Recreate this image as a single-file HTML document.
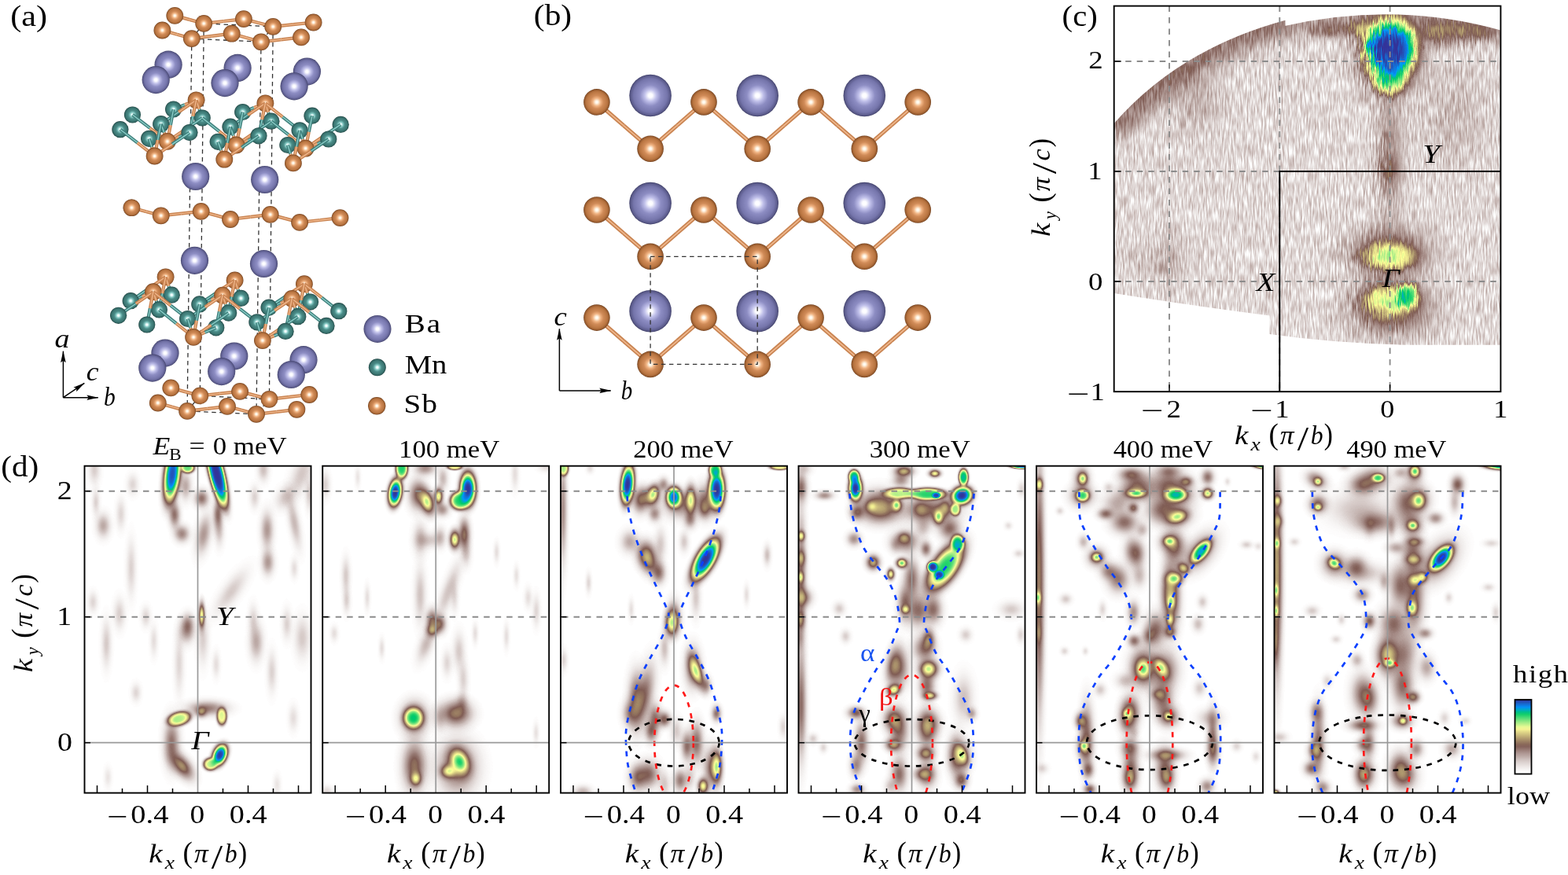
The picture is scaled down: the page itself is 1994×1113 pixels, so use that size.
<!DOCTYPE html>
<html><head><meta charset="utf-8"><title>figure</title>
<style>html,body{margin:0;padding:0;background:#fff;} svg{display:block;} text{font-family:'Liberation Serif', 'DejaVu Serif', serif;fill:#000;}</style>
</head><body>
<svg width="1994" height="1113" viewBox="0 0 1994 1113">
<rect width="1994" height="1113" fill="#fff"/>
<defs>
<filter id="cm" x="0" y="0" width="1" height="1" color-interpolation-filters="sRGB">
<feComponentTransfer><feFuncR type="table" tableValues="1.000 0.953 0.906 0.851 0.804 0.749 0.702 0.655 0.600 0.553 0.502 0.549 0.596 0.651 0.698 0.753 0.800 0.847 0.902 0.949 0.992 0.898 0.804 0.694 0.600 0.490 0.396 0.302 0.192 0.098 0.000 0.000 0.000 0.000 0.001 0.038 0.069 0.101 0.137 0.169 0.200"/><feFuncG type="table" tableValues="1.000 0.940 0.880 0.809 0.749 0.679 0.619 0.558 0.488 0.428 0.363 0.423 0.483 0.553 0.613 0.684 0.744 0.804 0.875 0.935 0.998 0.980 0.961 0.939 0.920 0.898 0.879 0.860 0.838 0.820 0.794 0.747 0.700 0.645 0.597 0.524 0.461 0.399 0.325 0.263 0.200"/><feFuncB type="table" tableValues="1.000 0.937 0.874 0.800 0.737 0.664 0.601 0.538 0.464 0.401 0.331 0.356 0.382 0.412 0.437 0.467 0.492 0.517 0.547 0.572 0.598 0.580 0.561 0.539 0.520 0.498 0.479 0.460 0.438 0.420 0.418 0.559 0.700 0.865 0.997 0.924 0.861 0.799 0.725 0.663 0.600"/></feComponentTransfer></filter>
<radialGradient id="bl"><stop offset="0.000" stop-color="#fff" stop-opacity="1.000"/><stop offset="0.125" stop-color="#fff" stop-opacity="0.927"/><stop offset="0.250" stop-color="#fff" stop-opacity="0.739"/><stop offset="0.375" stop-color="#fff" stop-opacity="0.506"/><stop offset="0.500" stop-color="#fff" stop-opacity="0.298"/><stop offset="0.625" stop-color="#fff" stop-opacity="0.151"/><stop offset="0.750" stop-color="#fff" stop-opacity="0.066"/><stop offset="0.875" stop-color="#fff" stop-opacity="0.025"/><stop offset="1.000" stop-color="#fff" stop-opacity="0.000"/></radialGradient>
<radialGradient id="gBa" cx="0.5" cy="0.5" r="0.5"><stop offset="0" stop-color="#ffffff"/><stop offset="0.1" stop-color="#fbfbff"/><stop offset="0.28" stop-color="#c0c0ea"/><stop offset="0.5" stop-color="#8d8dc3"/><stop offset="0.8" stop-color="#7575ab"/><stop offset="0.94" stop-color="#5a5a8a"/><stop offset="1" stop-color="#404068"/></radialGradient>
<radialGradient id="gMn" cx="0.5" cy="0.5" r="0.5"><stop offset="0" stop-color="#ffffff"/><stop offset="0.1" stop-color="#effffe"/><stop offset="0.3" stop-color="#7ec3be"/><stop offset="0.5" stop-color="#4b8c88"/><stop offset="0.8" stop-color="#3b7672"/><stop offset="0.94" stop-color="#2c5b58"/><stop offset="1" stop-color="#1e413f"/></radialGradient>
<radialGradient id="gSb" cx="0.5" cy="0.5" r="0.5"><stop offset="0" stop-color="#ffffff"/><stop offset="0.1" stop-color="#fff6e6"/><stop offset="0.3" stop-color="#f0b382"/><stop offset="0.5" stop-color="#d08b58"/><stop offset="0.8" stop-color="#b97541"/><stop offset="0.94" stop-color="#95592d"/><stop offset="1" stop-color="#6f401f"/></radialGradient>
<marker id="ah" viewBox="0 0 15 7" refX="14.5" refY="3.5" markerWidth="15" markerHeight="7" markerUnits="userSpaceOnUse" orient="auto"><path d="M0,0.2 L15,3.5 L0,6.8 L2.5,3.5 z" fill="#000"/></marker>
</defs>
<radialGradient id="bl"><stop offset="0.00" stop-color="#fff" stop-opacity="1.000"/><stop offset="0.10" stop-color="#fff" stop-opacity="0.948"/><stop offset="0.20" stop-color="#fff" stop-opacity="0.809"/><stop offset="0.30" stop-color="#fff" stop-opacity="0.621"/><stop offset="0.40" stop-color="#fff" stop-opacity="0.429"/><stop offset="0.50" stop-color="#fff" stop-opacity="0.266"/><stop offset="0.60" stop-color="#fff" stop-opacity="0.149"/><stop offset="0.70" stop-color="#fff" stop-opacity="0.075"/><stop offset="0.80" stop-color="#fff" stop-opacity="0.034"/><stop offset="0.90" stop-color="#fff" stop-opacity="0.014"/><stop offset="1.00" stop-color="#fff" stop-opacity="0.000"/></radialGradient>
<radialGradient id="bf"><stop offset="0.000" stop-color="#fff" stop-opacity="1.000"/><stop offset="0.083" stop-color="#fff" stop-opacity="0.999"/><stop offset="0.167" stop-color="#fff" stop-opacity="0.991"/><stop offset="0.250" stop-color="#fff" stop-opacity="0.955"/><stop offset="0.333" stop-color="#fff" stop-opacity="0.865"/><stop offset="0.417" stop-color="#fff" stop-opacity="0.703"/><stop offset="0.500" stop-color="#fff" stop-opacity="0.481"/><stop offset="0.583" stop-color="#fff" stop-opacity="0.258"/><stop offset="0.667" stop-color="#fff" stop-opacity="0.099"/><stop offset="0.750" stop-color="#fff" stop-opacity="0.025"/><stop offset="0.833" stop-color="#fff" stop-opacity="0.004"/><stop offset="0.917" stop-color="#fff" stop-opacity="0.000"/><stop offset="1.000" stop-color="#fff" stop-opacity="0.000"/></radialGradient>
<radialGradient id="bm"><stop offset="0.000" stop-color="#fff" stop-opacity="1.000"/><stop offset="0.083" stop-color="#fff" stop-opacity="0.996"/><stop offset="0.167" stop-color="#fff" stop-opacity="0.971"/><stop offset="0.250" stop-color="#fff" stop-opacity="0.906"/><stop offset="0.333" stop-color="#fff" stop-opacity="0.791"/><stop offset="0.417" stop-color="#fff" stop-opacity="0.633"/><stop offset="0.500" stop-color="#fff" stop-opacity="0.453"/><stop offset="0.583" stop-color="#fff" stop-opacity="0.285"/><stop offset="0.667" stop-color="#fff" stop-opacity="0.153"/><stop offset="0.750" stop-color="#fff" stop-opacity="0.069"/><stop offset="0.833" stop-color="#fff" stop-opacity="0.026"/><stop offset="0.917" stop-color="#fff" stop-opacity="0.008"/><stop offset="1.000" stop-color="#fff" stop-opacity="0.000"/></radialGradient>
<clipPath id="cpc"><path d="M1416.7,157 Q1500,62 1634.5,25.7 L1634.5,36 L1634,33 Q1775,1 1908.5,38.5 L1908.5,438.7 L1792,438.7 Q1700,437 1614.4,425 L1614.4,401.6 Q1510,388 1416.7,373 Z"/></clipPath>
<filter id="bl10" filterUnits="userSpaceOnUse" x="1380" y="-40" width="560" height="300"><feGaussianBlur stdDeviation="9"/></filter>
<filter id="fc" filterUnits="userSpaceOnUse" x="1416" y="7" width="494" height="434" color-interpolation-filters="sRGB">
<feTurbulence type="fractalNoise" baseFrequency="0.5 0.06" numOctaves="2" seed="7" result="t"/>
<feDisplacementMap in="SourceGraphic" in2="t" scale="18" xChannelSelector="R" yChannelSelector="G" result="d"/>
<feColorMatrix in="t" type="matrix" values="0.25 0 0 0 -0.065  0.25 0 0 0 -0.065  0.25 0 0 0 -0.065  0 0 0 0 1" result="n"/>
<feComposite in="d" in2="n" operator="arithmetic" k1="0" k2="1" k3="1" k4="0" result="sum"/>
<feComponentTransfer in="sum"><feFuncR type="table" tableValues="1.000 0.953 0.906 0.851 0.804 0.749 0.702 0.655 0.600 0.553 0.502 0.549 0.596 0.651 0.698 0.753 0.800 0.847 0.902 0.949 0.992 0.898 0.804 0.694 0.600 0.490 0.396 0.302 0.192 0.098 0.000 0.000 0.000 0.000 0.001 0.038 0.069 0.101 0.137 0.169 0.200"/><feFuncG type="table" tableValues="1.000 0.940 0.880 0.809 0.749 0.679 0.619 0.558 0.488 0.428 0.363 0.423 0.483 0.553 0.613 0.684 0.744 0.804 0.875 0.935 0.998 0.980 0.961 0.939 0.920 0.898 0.879 0.860 0.838 0.820 0.794 0.747 0.700 0.645 0.597 0.524 0.461 0.399 0.325 0.263 0.200"/><feFuncB type="table" tableValues="1.000 0.937 0.874 0.800 0.737 0.664 0.601 0.538 0.464 0.401 0.331 0.356 0.382 0.412 0.437 0.467 0.492 0.517 0.547 0.572 0.598 0.580 0.561 0.539 0.520 0.498 0.479 0.460 0.438 0.420 0.418 0.559 0.700 0.865 0.997 0.924 0.861 0.799 0.725 0.663 0.600"/></feComponentTransfer>
</filter>
<g clip-path="url(#cpc)"><g filter="url(#fc)">
<rect x="1416" y="7" width="494" height="434" fill="#000"/>
<path d="M1410,163 Q1500,62 1634.5,22" fill="none" stroke="#fff" stroke-opacity="0.15" stroke-width="44" filter="url(#bl10)"/>
<path d="M1634,30 Q1775,-2 1912,36" fill="none" stroke="#fff" stroke-opacity="0.09" stroke-width="36" filter="url(#bl10)"/>
<ellipse cx="1470.0" cy="330.0" rx="90.0" ry="60.0" fill="url(#bl)" opacity="0.030"/>
<ellipse cx="1767.0" cy="200.0" rx="34.0" ry="160.0" fill="url(#bl)" opacity="0.120"/>
<ellipse cx="1767.0" cy="215.0" rx="24.0" ry="34.0" fill="url(#bl)" opacity="0.120"/>
<ellipse cx="1860.0" cy="40.0" rx="95.0" ry="28.0" fill="url(#bl)" opacity="0.200"/>
<ellipse cx="1520.0" cy="125.0" rx="70.0" ry="90.0" fill="url(#bl)" opacity="0.060"/>
<ellipse cx="1487.0" cy="330.0" rx="30.0" ry="90.0" fill="url(#bl)" opacity="0.035"/>
<ellipse cx="1850.0" cy="150.0" rx="80.0" ry="120.0" fill="url(#bl)" opacity="0.050"/>
<ellipse cx="1700.0" cy="38.0" rx="70.0" ry="20.0" fill="url(#bl)" opacity="0.140"/>
<ellipse cx="1767.0" cy="75.0" rx="75.0" ry="85.0" fill="url(#bl)" opacity="0.260"/>
<ellipse cx="1768.0" cy="62.0" rx="60.0" ry="70.0" fill="url(#bf)" opacity="0.900"/>
<ellipse cx="1767.0" cy="102.0" rx="40.0" ry="34.0" fill="url(#bf)" opacity="0.450"/>
<ellipse cx="1825.0" cy="42.0" rx="40.0" ry="30.0" fill="url(#bl)" opacity="0.160"/>
<ellipse cx="1730.0" cy="35.0" rx="30.0" ry="25.0" fill="url(#bl)" opacity="0.200"/>
<ellipse cx="1752.0" cy="60.0" rx="28.0" ry="40.0" fill="url(#bf)" opacity="0.200"/>
<ellipse cx="1785.0" cy="60.0" rx="28.0" ry="40.0" fill="url(#bf)" opacity="0.200"/>
<ellipse cx="1767.0" cy="322.0" rx="92.0" ry="58.0" fill="url(#bl)" opacity="0.270"/>
<ellipse cx="1768.0" cy="392.0" rx="95.0" ry="62.0" fill="url(#bl)" opacity="0.270"/>
<ellipse cx="1767.0" cy="327.0" rx="62.0" ry="30.0" fill="url(#bf)" opacity="0.320"/>
<ellipse cx="1768.0" cy="381.0" rx="64.0" ry="34.0" fill="url(#bf)" opacity="0.340"/>
<ellipse cx="1790.0" cy="375.0" rx="24.0" ry="30.0" fill="url(#bf)" opacity="0.500" transform="rotate(20.0 1790.0 375.0)"/>
</g></g>
<clipPath id="cpd0"><rect x="107.5" y="592.7" width="288.0" height="415.9"/></clipPath>
<g clip-path="url(#cpd0)"><g filter="url(#cm)">
<rect x="105.5" y="590.7" width="292.0" height="419.9" fill="#000"/>
<ellipse cx="219.0" cy="603.2" rx="17.7" ry="62.8" fill="url(#bm)" opacity="0.950" transform="rotate(7.0 219.0 603.2)"/>
<ellipse cx="222.0" cy="655.0" rx="13.2" ry="30.1" fill="url(#bl)" opacity="0.221"/>
<ellipse cx="275.8" cy="603.2" rx="17.6" ry="76.1" fill="url(#bf)" opacity="1.000" transform="rotate(-14.0 275.8 603.2)"/>
<ellipse cx="277.1" cy="653.7" rx="11.3" ry="37.6" fill="url(#bl)" opacity="0.221"/>
<ellipse cx="238.8" cy="594.8" rx="15.3" ry="12.5" fill="url(#bf)" opacity="0.650"/>
<ellipse cx="236.0" cy="618.2" rx="14.4" ry="33.5" fill="url(#bl)" opacity="0.134"/>
<ellipse cx="256.5" cy="634.1" rx="16.9" ry="20.7" fill="url(#bl)" opacity="0.221"/>
<ellipse cx="258.8" cy="679.9" rx="17.3" ry="47.6" fill="url(#bl)" opacity="0.161" transform="rotate(10.0 258.8 679.9)"/>
<ellipse cx="231.3" cy="678.9" rx="18.0" ry="20.0" fill="url(#bl)" opacity="0.190"/>
<ellipse cx="339.7" cy="674.2" rx="15.2" ry="43.3" fill="url(#bl)" opacity="0.161"/>
<ellipse cx="374.3" cy="664.9" rx="13.3" ry="60.7" fill="url(#bl)" opacity="0.110" transform="rotate(-10.0 374.3 664.9)"/>
<ellipse cx="340.6" cy="715.4" rx="15.2" ry="30.3" fill="url(#bl)" opacity="0.161"/>
<ellipse cx="131.3" cy="668.6" rx="16.8" ry="28.7" fill="url(#bl)" opacity="0.134"/>
<ellipse cx="293.9" cy="752.7" rx="21.0" ry="62.3" fill="url(#bl)" opacity="0.083" transform="rotate(35.0 293.9 752.7)"/>
<ellipse cx="256.5" cy="782.7" rx="7.1" ry="29.4" fill="url(#bl)" opacity="0.510"/>
<ellipse cx="120.1" cy="597.6" rx="14.0" ry="34.3" fill="url(#bl)" opacity="0.077"/>
<ellipse cx="335.0" cy="597.6" rx="13.7" ry="27.3" fill="url(#bl)" opacity="0.099"/>
<ellipse cx="383.6" cy="603.2" rx="23.4" ry="56.1" fill="url(#bl)" opacity="0.088" transform="rotate(20.0 383.6 603.2)"/>
<ellipse cx="122.0" cy="638.7" rx="9.3" ry="31.2" fill="url(#bl)" opacity="0.072"/>
<ellipse cx="323.8" cy="632.2" rx="11.7" ry="28.0" fill="url(#bl)" opacity="0.072"/>
<ellipse cx="363.1" cy="632.2" rx="21.0" ry="31.2" fill="url(#bl)" opacity="0.088" transform="rotate(30.0 363.1 632.2)"/>
<ellipse cx="153.7" cy="653.7" rx="11.7" ry="37.4" fill="url(#bl)" opacity="0.066"/>
<ellipse cx="166.8" cy="722.8" rx="11.7" ry="68.5" fill="url(#bl)" opacity="0.072"/>
<ellipse cx="168.7" cy="616.3" rx="14.0" ry="24.9" fill="url(#bl)" opacity="0.066"/>
<ellipse cx="279.0" cy="676.1" rx="11.7" ry="37.4" fill="url(#bl)" opacity="0.083"/>
<ellipse cx="393.0" cy="629.4" rx="9.3" ry="37.4" fill="url(#bl)" opacity="0.077"/>
<ellipse cx="374.3" cy="722.8" rx="9.3" ry="24.9" fill="url(#bl)" opacity="0.055"/>
<ellipse cx="151.9" cy="780.8" rx="14.0" ry="37.4" fill="url(#bl)" opacity="0.077"/>
<ellipse cx="185.5" cy="784.5" rx="11.7" ry="24.9" fill="url(#bl)" opacity="0.066"/>
<ellipse cx="238.8" cy="793.9" rx="15.2" ry="26.0" fill="url(#bl)" opacity="0.161"/>
<ellipse cx="322.0" cy="788.3" rx="11.7" ry="37.4" fill="url(#bl)" opacity="0.066"/>
<ellipse cx="364.9" cy="793.9" rx="11.7" ry="37.4" fill="url(#bl)" opacity="0.072"/>
<ellipse cx="118.2" cy="765.8" rx="11.7" ry="24.9" fill="url(#bl)" opacity="0.066"/>
<ellipse cx="227.8" cy="914.2" rx="27.1" ry="15.7" fill="url(#bf)" opacity="0.570" transform="rotate(-15.0 227.8 914.2)"/>
<ellipse cx="263.6" cy="900.9" rx="47.0" ry="17.6" fill="url(#bl)" opacity="0.205"/>
<ellipse cx="256.1" cy="905.7" rx="12.6" ry="12.6" fill="url(#bl)" opacity="0.255"/>
<ellipse cx="282.1" cy="911.3" rx="11.5" ry="20.2" fill="url(#bf)" opacity="0.520"/>
<ellipse cx="218.3" cy="945.3" rx="19.0" ry="57.0" fill="url(#bl)" opacity="0.221"/>
<ellipse cx="231.5" cy="974.5" rx="19.9" ry="36.6" fill="url(#bl)" opacity="0.330" transform="rotate(-38.0 231.5 974.5)"/>
<ellipse cx="279.6" cy="960.4" rx="15.4" ry="24.8" fill="url(#bm)" opacity="0.980" transform="rotate(22.0 279.6 960.4)"/>
<ellipse cx="267.4" cy="972.1" rx="15.7" ry="14.3" fill="url(#bf)" opacity="0.560"/>
<ellipse cx="135.3" cy="818.9" rx="11.8" ry="56.6" fill="url(#bl)" opacity="0.083"/>
<ellipse cx="195.7" cy="815.1" rx="9.4" ry="37.7" fill="url(#bl)" opacity="0.055"/>
<ellipse cx="227.8" cy="843.4" rx="11.8" ry="75.5" fill="url(#bl)" opacity="0.066"/>
<ellipse cx="237.2" cy="803.8" rx="19.3" ry="29.0" fill="url(#bl)" opacity="0.134"/>
<ellipse cx="257.9" cy="811.3" rx="14.2" ry="62.9" fill="url(#bl)" opacity="0.077"/>
<ellipse cx="325.9" cy="817.0" rx="16.9" ry="43.5" fill="url(#bl)" opacity="0.134"/>
<ellipse cx="345.7" cy="854.7" rx="11.8" ry="50.3" fill="url(#bl)" opacity="0.072"/>
<ellipse cx="384.4" cy="811.3" rx="18.9" ry="50.3" fill="url(#bl)" opacity="0.083"/>
<ellipse cx="373.0" cy="913.2" rx="11.8" ry="31.4" fill="url(#bl)" opacity="0.055"/>
<ellipse cx="173.0" cy="881.1" rx="11.8" ry="22.0" fill="url(#bl)" opacity="0.066"/>
<ellipse cx="274.9" cy="845.3" rx="9.4" ry="31.4" fill="url(#bl)" opacity="0.055"/>
<ellipse cx="137.2" cy="988.7" rx="9.4" ry="25.2" fill="url(#bl)" opacity="0.044"/>
<ellipse cx="352.3" cy="998.1" rx="9.4" ry="25.2" fill="url(#bl)" opacity="0.044"/>
</g></g>
<clipPath id="cpd1"><rect x="410.2" y="592.7" width="288.0" height="415.9"/></clipPath>
<g clip-path="url(#cpd1)"><g filter="url(#cm)">
<rect x="408.2" y="590.7" width="292.0" height="419.9" fill="#000"/>
<ellipse cx="502.5" cy="626.6" rx="14.7" ry="30.6" fill="url(#bm)" opacity="1.000" transform="rotate(8.0 502.5 626.6)"/>
<ellipse cx="510.9" cy="595.7" rx="13.8" ry="23.4" fill="url(#bf)" opacity="0.720"/>
<ellipse cx="595.0" cy="621.9" rx="17.6" ry="36.7" fill="url(#bm)" opacity="1.000"/>
<ellipse cx="584.8" cy="636.9" rx="22.0" ry="20.7" fill="url(#bf)" opacity="0.720"/>
<ellipse cx="578.2" cy="593.9" rx="17.2" ry="7.2" fill="url(#bf)" opacity="0.500"/>
<ellipse cx="531.5" cy="629.4" rx="21.4" ry="35.7" fill="url(#bl)" opacity="0.255"/>
<ellipse cx="543.1" cy="638.7" rx="15.8" ry="28.8" fill="url(#bl)" opacity="0.560" transform="rotate(-15.0 543.1 638.7)"/>
<ellipse cx="557.7" cy="631.3" rx="10.2" ry="18.9" fill="url(#bl)" opacity="0.540"/>
<ellipse cx="540.8" cy="595.7" rx="24.9" ry="16.6" fill="url(#bl)" opacity="0.175"/>
<ellipse cx="563.3" cy="608.8" rx="12.4" ry="27.6" fill="url(#bl)" opacity="0.110"/>
<ellipse cx="562.3" cy="648.1" rx="16.6" ry="16.6" fill="url(#bl)" opacity="0.175"/>
<ellipse cx="578.2" cy="686.4" rx="11.5" ry="21.6" fill="url(#bl)" opacity="0.560"/>
<ellipse cx="590.4" cy="679.9" rx="13.7" ry="37.6" fill="url(#bl)" opacity="0.291"/>
<ellipse cx="534.3" cy="685.5" rx="16.6" ry="38.7" fill="url(#bl)" opacity="0.110"/>
<ellipse cx="559.5" cy="683.6" rx="14.5" ry="24.8" fill="url(#bl)" opacity="0.110"/>
<ellipse cx="544.6" cy="687.3" rx="28.0" ry="18.7" fill="url(#bl)" opacity="0.083"/>
<ellipse cx="593.2" cy="704.1" rx="11.7" ry="31.2" fill="url(#bl)" opacity="0.077"/>
<ellipse cx="549.3" cy="790.1" rx="14.3" ry="28.6" fill="url(#bl)" opacity="0.255"/>
<ellipse cx="559.5" cy="793.9" rx="14.3" ry="21.4" fill="url(#bl)" opacity="0.255"/>
<ellipse cx="534.3" cy="756.5" rx="14.0" ry="68.5" fill="url(#bl)" opacity="0.094"/>
<ellipse cx="570.7" cy="750.9" rx="16.4" ry="74.8" fill="url(#bl)" opacity="0.094" transform="rotate(20.0 570.7 750.9)"/>
<ellipse cx="439.9" cy="732.2" rx="10.3" ry="43.6" fill="url(#bl)" opacity="0.083"/>
<ellipse cx="440.8" cy="764.0" rx="9.3" ry="31.2" fill="url(#bl)" opacity="0.072"/>
<ellipse cx="467.0" cy="760.2" rx="7.0" ry="31.2" fill="url(#bl)" opacity="0.055"/>
<ellipse cx="631.5" cy="702.3" rx="7.0" ry="24.9" fill="url(#bl)" opacity="0.055"/>
<ellipse cx="656.7" cy="732.2" rx="7.0" ry="24.9" fill="url(#bl)" opacity="0.050"/>
<ellipse cx="671.7" cy="760.2" rx="9.3" ry="24.9" fill="url(#bl)" opacity="0.055"/>
<ellipse cx="682.0" cy="777.0" rx="9.3" ry="37.4" fill="url(#bl)" opacity="0.066"/>
<ellipse cx="413.7" cy="616.3" rx="11.7" ry="31.2" fill="url(#bl)" opacity="0.072"/>
<ellipse cx="654.9" cy="603.2" rx="9.3" ry="37.4" fill="url(#bl)" opacity="0.055"/>
<ellipse cx="694.1" cy="593.9" rx="18.7" ry="12.5" fill="url(#bl)" opacity="0.055"/>
<ellipse cx="578.2" cy="760.2" rx="9.3" ry="37.4" fill="url(#bl)" opacity="0.055"/>
<ellipse cx="454.9" cy="607.0" rx="7.0" ry="24.9" fill="url(#bl)" opacity="0.044"/>
<ellipse cx="527.0" cy="913.2" rx="31.1" ry="38.0" fill="url(#bl)" opacity="0.291"/>
<ellipse cx="525.5" cy="913.2" rx="20.9" ry="22.2" fill="url(#bm)" opacity="0.660"/>
<ellipse cx="579.8" cy="907.5" rx="37.2" ry="30.5" fill="url(#bl)" opacity="0.310"/>
<ellipse cx="587.4" cy="894.3" rx="14.6" ry="22.3" fill="url(#bl)" opacity="0.110"/>
<ellipse cx="559.1" cy="913.2" rx="14.2" ry="31.4" fill="url(#bl)" opacity="0.083"/>
<ellipse cx="527.0" cy="974.5" rx="27.6" ry="58.7" fill="url(#bl)" opacity="0.291"/>
<ellipse cx="528.9" cy="990.6" rx="12.6" ry="15.8" fill="url(#bl)" opacity="0.400"/>
<ellipse cx="581.7" cy="975.5" rx="46.9" ry="61.3" fill="url(#bl)" opacity="0.255"/>
<ellipse cx="584.5" cy="968.9" rx="21.0" ry="30.8" fill="url(#bl)" opacity="0.660" transform="rotate(-22.0 584.5 968.9)"/>
<ellipse cx="570.4" cy="981.1" rx="18.7" ry="15.6" fill="url(#bl)" opacity="0.420"/>
<ellipse cx="549.6" cy="801.9" rx="14.4" ry="14.4" fill="url(#bl)" opacity="0.255"/>
<ellipse cx="542.1" cy="818.9" rx="16.7" ry="44.6" fill="url(#bl)" opacity="0.110" transform="rotate(20.0 542.1 818.9)"/>
<ellipse cx="583.6" cy="828.3" rx="14.2" ry="44.0" fill="url(#bl)" opacity="0.083"/>
<ellipse cx="589.2" cy="864.2" rx="11.8" ry="44.0" fill="url(#bl)" opacity="0.072"/>
<ellipse cx="568.5" cy="843.4" rx="11.8" ry="31.4" fill="url(#bl)" opacity="0.066"/>
<ellipse cx="485.5" cy="824.5" rx="7.1" ry="25.2" fill="url(#bl)" opacity="0.055"/>
<ellipse cx="425.1" cy="805.7" rx="9.4" ry="18.9" fill="url(#bl)" opacity="0.055"/>
<ellipse cx="644.0" cy="809.4" rx="7.1" ry="31.4" fill="url(#bl)" opacity="0.055"/>
<ellipse cx="604.3" cy="805.7" rx="7.1" ry="25.2" fill="url(#bl)" opacity="0.055"/>
<ellipse cx="681.7" cy="932.1" rx="7.1" ry="25.2" fill="url(#bl)" opacity="0.050"/>
<ellipse cx="415.7" cy="1005.7" rx="14.2" ry="12.6" fill="url(#bl)" opacity="0.055"/>
</g></g>
<clipPath id="cpd2"><rect x="713.0" y="592.7" width="288.0" height="415.9"/></clipPath>
<g clip-path="url(#cpd2)"><g filter="url(#cm)">
<rect x="711.0" y="590.7" width="292.0" height="419.9" fill="#000"/>
<ellipse cx="825.0" cy="632.7" rx="25.6" ry="25.6" fill="url(#bl)" opacity="0.230"/>
<ellipse cx="865.0" cy="640.7" rx="38.4" ry="32.0" fill="url(#bl)" opacity="0.230"/>
<ellipse cx="897.0" cy="637.5" rx="25.6" ry="38.4" fill="url(#bl)" opacity="0.230"/>
<ellipse cx="821.8" cy="704.7" rx="22.4" ry="32.0" fill="url(#bl)" opacity="0.230"/>
<ellipse cx="837.8" cy="728.7" rx="16.0" ry="25.6" fill="url(#bl)" opacity="0.207"/>
<ellipse cx="857.0" cy="784.7" rx="16.0" ry="38.4" fill="url(#bl)" opacity="0.230"/>
<ellipse cx="881.0" cy="848.7" rx="19.2" ry="48.0" fill="url(#bl)" opacity="0.230"/>
<ellipse cx="809.0" cy="888.7" rx="19.2" ry="64.0" fill="url(#bl)" opacity="0.230"/>
<ellipse cx="833.0" cy="912.7" rx="16.0" ry="32.0" fill="url(#bl)" opacity="0.207"/>
<ellipse cx="885.8" cy="944.7" rx="16.0" ry="48.0" fill="url(#bl)" opacity="0.230"/>
<ellipse cx="825.0" cy="984.7" rx="25.6" ry="32.0" fill="url(#bl)" opacity="0.230"/>
<ellipse cx="865.0" cy="992.7" rx="16.0" ry="25.6" fill="url(#bl)" opacity="0.207"/>
<ellipse cx="905.0" cy="976.7" rx="19.2" ry="48.0" fill="url(#bl)" opacity="0.230"/>
<ellipse cx="798.0" cy="616.3" rx="14.7" ry="42.9" fill="url(#bm)" opacity="1.000" transform="rotate(5.0 798.0 616.3)"/>
<ellipse cx="716.7" cy="595.7" rx="11.3" ry="17.0" fill="url(#bf)" opacity="0.550"/>
<ellipse cx="715.8" cy="648.1" rx="10.4" ry="124.7" fill="url(#bl)" opacity="0.175"/>
<ellipse cx="911.5" cy="622.8" rx="17.6" ry="42.9" fill="url(#bm)" opacity="1.000"/>
<ellipse cx="909.3" cy="597.6" rx="13.8" ry="16.6" fill="url(#bf)" opacity="0.700"/>
<ellipse cx="856.9" cy="632.2" rx="16.1" ry="22.3" fill="url(#bm)" opacity="0.900"/>
<ellipse cx="830.8" cy="628.4" rx="13.2" ry="22.0" fill="url(#bl)" opacity="0.510" transform="rotate(15.0 830.8 628.4)"/>
<ellipse cx="878.4" cy="635.9" rx="11.8" ry="32.5" fill="url(#bl)" opacity="0.500"/>
<ellipse cx="813.9" cy="636.9" rx="18.8" ry="30.1" fill="url(#bl)" opacity="0.221"/>
<ellipse cx="832.6" cy="653.7" rx="14.5" ry="18.7" fill="url(#bl)" opacity="0.175"/>
<ellipse cx="877.5" cy="661.2" rx="14.5" ry="20.8" fill="url(#bl)" opacity="0.175"/>
<ellipse cx="843.8" cy="616.3" rx="12.5" ry="16.6" fill="url(#bl)" opacity="0.175"/>
<ellipse cx="896.2" cy="648.1" rx="14.5" ry="20.8" fill="url(#bl)" opacity="0.175"/>
<ellipse cx="897.1" cy="711.6" rx="20.8" ry="51.4" fill="url(#bm)" opacity="1.000" transform="rotate(30.0 897.1 711.6)"/>
<ellipse cx="825.1" cy="713.5" rx="21.4" ry="35.7" fill="url(#bl)" opacity="0.255" transform="rotate(-20.0 825.1 713.5)"/>
<ellipse cx="800.9" cy="689.2" rx="21.6" ry="26.4" fill="url(#bl)" opacity="0.134"/>
<ellipse cx="840.1" cy="692.9" rx="14.0" ry="40.5" fill="url(#bl)" opacity="0.083"/>
<ellipse cx="870.0" cy="689.2" rx="11.7" ry="24.9" fill="url(#bl)" opacity="0.083"/>
<ellipse cx="975.6" cy="706.0" rx="9.1" ry="24.3" fill="url(#bl)" opacity="0.099"/>
<ellipse cx="748.5" cy="741.5" rx="7.0" ry="24.9" fill="url(#bl)" opacity="0.066"/>
<ellipse cx="854.1" cy="792.9" rx="14.8" ry="29.5" fill="url(#bl)" opacity="0.500"/>
<ellipse cx="885.0" cy="760.2" rx="11.7" ry="46.7" fill="url(#bl)" opacity="0.083"/>
<ellipse cx="802.7" cy="775.2" rx="7.0" ry="24.9" fill="url(#bl)" opacity="0.055"/>
<ellipse cx="949.4" cy="756.5" rx="7.0" ry="24.9" fill="url(#bl)" opacity="0.055"/>
<ellipse cx="991.5" cy="593.9" rx="22.9" ry="7.2" fill="url(#bf)" opacity="0.500"/>
<ellipse cx="750.4" cy="595.7" rx="9.3" ry="12.5" fill="url(#bl)" opacity="0.055"/>
<ellipse cx="885.6" cy="854.7" rx="13.4" ry="37.3" fill="url(#bl)" opacity="0.500" transform="rotate(-18.0 885.6 854.7)"/>
<ellipse cx="897.9" cy="871.7" rx="12.6" ry="21.0" fill="url(#bl)" opacity="0.175"/>
<ellipse cx="819.6" cy="884.9" rx="20.9" ry="76.0" fill="url(#bl)" opacity="0.221" transform="rotate(10.0 819.6 884.9)"/>
<ellipse cx="828.1" cy="930.2" rx="15.2" ry="26.6" fill="url(#bl)" opacity="0.221"/>
<ellipse cx="801.7" cy="907.5" rx="18.9" ry="31.5" fill="url(#bl)" opacity="0.175"/>
<ellipse cx="845.1" cy="915.1" rx="14.4" ry="18.0" fill="url(#bl)" opacity="0.255"/>
<ellipse cx="911.1" cy="907.5" rx="11.4" ry="19.0" fill="url(#bl)" opacity="0.221"/>
<ellipse cx="873.4" cy="949.1" rx="13.3" ry="34.2" fill="url(#bl)" opacity="0.221"/>
<ellipse cx="860.2" cy="930.2" rx="14.2" ry="31.4" fill="url(#bl)" opacity="0.083"/>
<ellipse cx="911.5" cy="975.5" rx="12.3" ry="36.8" fill="url(#bl)" opacity="0.530"/>
<ellipse cx="894.1" cy="1000.0" rx="11.9" ry="17.8" fill="url(#bl)" opacity="0.510"/>
<ellipse cx="811.1" cy="988.7" rx="20.9" ry="30.4" fill="url(#bl)" opacity="0.221"/>
<ellipse cx="845.1" cy="998.1" rx="14.2" ry="31.4" fill="url(#bl)" opacity="0.083"/>
<ellipse cx="877.2" cy="988.7" rx="14.2" ry="31.4" fill="url(#bl)" opacity="0.083"/>
<ellipse cx="741.3" cy="1006.6" rx="20.9" ry="13.9" fill="url(#bl)" opacity="0.110"/>
<ellipse cx="996.0" cy="924.5" rx="9.4" ry="25.2" fill="url(#bl)" opacity="0.066"/>
<ellipse cx="716.8" cy="839.6" rx="9.4" ry="25.2" fill="url(#bl)" opacity="0.066"/>
<ellipse cx="845.1" cy="824.5" rx="11.5" ry="39.9" fill="url(#bl)" opacity="0.099"/>
</g></g>
<clipPath id="cpd3"><rect x="1015.5" y="592.7" width="288.0" height="415.9"/></clipPath>
<g clip-path="url(#cpd3)"><g filter="url(#cm)">
<rect x="1013.5" y="590.7" width="292.0" height="419.9" fill="#000"/>
<ellipse cx="1119.5" cy="648.7" rx="48.0" ry="32.0" fill="url(#bl)" opacity="0.253"/>
<ellipse cx="1183.5" cy="648.7" rx="64.0" ry="32.0" fill="url(#bl)" opacity="0.253"/>
<ellipse cx="1207.5" cy="672.7" rx="25.6" ry="25.6" fill="url(#bl)" opacity="0.230"/>
<ellipse cx="1151.5" cy="688.7" rx="32.0" ry="25.6" fill="url(#bl)" opacity="0.230"/>
<ellipse cx="1159.5" cy="736.7" rx="19.2" ry="48.0" fill="url(#bl)" opacity="0.230"/>
<ellipse cx="1167.5" cy="776.7" rx="25.6" ry="38.4" fill="url(#bl)" opacity="0.230"/>
<ellipse cx="1175.5" cy="824.7" rx="25.6" ry="32.0" fill="url(#bl)" opacity="0.230"/>
<ellipse cx="1143.5" cy="848.7" rx="22.4" ry="48.0" fill="url(#bl)" opacity="0.230"/>
<ellipse cx="1178.7" cy="872.7" rx="19.2" ry="32.0" fill="url(#bl)" opacity="0.230"/>
<ellipse cx="1143.5" cy="928.7" rx="22.4" ry="48.0" fill="url(#bl)" opacity="0.230"/>
<ellipse cx="1178.7" cy="928.7" rx="22.4" ry="48.0" fill="url(#bl)" opacity="0.230"/>
<ellipse cx="1143.5" cy="984.7" rx="19.2" ry="38.4" fill="url(#bl)" opacity="0.230"/>
<ellipse cx="1178.7" cy="984.7" rx="22.4" ry="32.0" fill="url(#bl)" opacity="0.230"/>
<ellipse cx="1215.5" cy="960.7" rx="19.2" ry="48.0" fill="url(#bl)" opacity="0.230"/>
<ellipse cx="1095.5" cy="944.7" rx="16.0" ry="48.0" fill="url(#bl)" opacity="0.230"/>
<ellipse cx="1018.7" cy="736.7" rx="12.8" ry="160.0" fill="url(#bl)" opacity="0.230"/>
<ellipse cx="1018.7" cy="896.7" rx="12.8" ry="128.0" fill="url(#bl)" opacity="0.230"/>
<ellipse cx="1087.9" cy="621.0" rx="14.7" ry="26.9" fill="url(#bm)" opacity="1.000"/>
<ellipse cx="1086.0" cy="606.0" rx="12.3" ry="15.1" fill="url(#bf)" opacity="0.750"/>
<ellipse cx="1144.0" cy="627.5" rx="36.8" ry="12.8" fill="url(#bf)" opacity="0.550"/>
<ellipse cx="1179.5" cy="628.4" rx="41.4" ry="13.8" fill="url(#bf)" opacity="0.700"/>
<ellipse cx="1190.7" cy="630.3" rx="9.4" ry="6.7" fill="url(#bf)" opacity="0.920"/>
<ellipse cx="1223.4" cy="630.3" rx="23.3" ry="19.6" fill="url(#bm)" opacity="1.000" transform="rotate(-20.0 1223.4 630.3)"/>
<ellipse cx="1225.3" cy="607.0" rx="10.9" ry="19.1" fill="url(#bf)" opacity="0.780"/>
<ellipse cx="1215.0" cy="648.1" rx="11.3" ry="14.2" fill="url(#bf)" opacity="0.550"/>
<ellipse cx="1140.2" cy="642.5" rx="11.4" ry="14.3" fill="url(#bl)" opacity="0.580"/>
<ellipse cx="1193.5" cy="657.4" rx="11.5" ry="17.3" fill="url(#bl)" opacity="0.560"/>
<ellipse cx="1149.6" cy="599.5" rx="22.2" ry="12.7" fill="url(#bl)" opacity="0.380"/>
<ellipse cx="1188.8" cy="602.3" rx="13.2" ry="8.8" fill="url(#bl)" opacity="0.510"/>
<ellipse cx="1117.8" cy="640.6" rx="46.5" ry="34.9" fill="url(#bl)" opacity="0.205"/>
<ellipse cx="1108.5" cy="644.3" rx="12.5" ry="12.5" fill="url(#bl)" opacity="0.255"/>
<ellipse cx="1089.8" cy="651.8" rx="16.9" ry="18.8" fill="url(#bl)" opacity="0.221"/>
<ellipse cx="1170.1" cy="648.1" rx="18.7" ry="20.8" fill="url(#bl)" opacity="0.175"/>
<ellipse cx="1201.9" cy="646.2" rx="14.3" ry="21.4" fill="url(#bl)" opacity="0.255"/>
<ellipse cx="1173.9" cy="670.5" rx="18.2" ry="24.3" fill="url(#bl)" opacity="0.099"/>
<ellipse cx="1145.8" cy="610.7" rx="20.8" ry="16.6" fill="url(#bl)" opacity="0.175"/>
<ellipse cx="1048.6" cy="630.3" rx="20.8" ry="10.4" fill="url(#bl)" opacity="0.175"/>
<ellipse cx="1018.7" cy="681.7" rx="9.0" ry="12.0" fill="url(#bl)" opacity="0.460"/>
<ellipse cx="1018.7" cy="620.0" rx="15.1" ry="33.9" fill="url(#bl)" opacity="0.221"/>
<ellipse cx="1018.7" cy="709.8" rx="10.7" ry="17.9" fill="url(#bl)" opacity="0.255"/>
<ellipse cx="1017.8" cy="734.1" rx="7.6" ry="12.2" fill="url(#bl)" opacity="0.440"/>
<ellipse cx="1020.6" cy="760.2" rx="21.4" ry="21.4" fill="url(#bl)" opacity="0.255"/>
<ellipse cx="1017.8" cy="788.3" rx="10.7" ry="21.4" fill="url(#bl)" opacity="0.255"/>
<ellipse cx="1086.0" cy="685.5" rx="16.6" ry="16.6" fill="url(#bl)" opacity="0.175"/>
<ellipse cx="1149.6" cy="683.6" rx="15.1" ry="13.2" fill="url(#bl)" opacity="0.221"/>
<ellipse cx="1138.4" cy="692.9" rx="14.0" ry="18.7" fill="url(#bl)" opacity="0.083"/>
<ellipse cx="1110.3" cy="715.4" rx="15.8" ry="17.4" fill="url(#bl)" opacity="0.380"/>
<ellipse cx="1146.8" cy="716.3" rx="12.5" ry="11.1" fill="url(#bl)" opacity="0.660"/>
<ellipse cx="1132.8" cy="730.3" rx="8.8" ry="13.2" fill="url(#bl)" opacity="0.510"/>
<ellipse cx="1201.9" cy="721.0" rx="28.1" ry="61.3" fill="url(#bm)" opacity="0.720" transform="rotate(35.0 1201.9 721.0)"/>
<ellipse cx="1186.0" cy="721.0" rx="12.0" ry="12.0" fill="url(#bf)" opacity="1.000"/>
<ellipse cx="1194.4" cy="731.3" rx="10.7" ry="9.4" fill="url(#bf)" opacity="0.950"/>
<ellipse cx="1217.8" cy="691.1" rx="15.1" ry="19.2" fill="url(#bf)" opacity="0.750"/>
<ellipse cx="1177.6" cy="698.5" rx="13.2" ry="18.8" fill="url(#bl)" opacity="0.221"/>
<ellipse cx="1151.4" cy="775.2" rx="9.4" ry="9.4" fill="url(#bl)" opacity="0.400"/>
<ellipse cx="1150.5" cy="767.7" rx="16.9" ry="41.4" fill="url(#bl)" opacity="0.221"/>
<ellipse cx="1187.0" cy="775.2" rx="20.7" ry="33.9" fill="url(#bl)" opacity="0.221"/>
<ellipse cx="1067.3" cy="774.2" rx="14.0" ry="15.6" fill="url(#bl)" opacity="0.083"/>
<ellipse cx="1286.0" cy="775.2" rx="28.0" ry="18.7" fill="url(#bl)" opacity="0.083"/>
<ellipse cx="1295.4" cy="704.1" rx="11.7" ry="9.3" fill="url(#bl)" opacity="0.066"/>
<ellipse cx="1282.3" cy="668.6" rx="9.3" ry="9.3" fill="url(#bl)" opacity="0.055"/>
<ellipse cx="1299.1" cy="621.9" rx="9.3" ry="18.7" fill="url(#bl)" opacity="0.066"/>
<ellipse cx="1301.0" cy="592.0" rx="29.4" ry="7.5" fill="url(#bf)" opacity="1.000"/>
<ellipse cx="1022.5" cy="595.7" rx="18.7" ry="15.6" fill="url(#bl)" opacity="0.083"/>
<ellipse cx="1181.0" cy="850.9" rx="21.8" ry="20.3" fill="url(#bl)" opacity="0.560"/>
<ellipse cx="1181.0" cy="813.2" rx="14.4" ry="25.3" fill="url(#bl)" opacity="0.255"/>
<ellipse cx="1136.7" cy="877.4" rx="16.2" ry="13.2" fill="url(#bl)" opacity="0.530" transform="rotate(-30.0 1136.7 877.4)"/>
<ellipse cx="1135.8" cy="847.2" rx="17.1" ry="41.8" fill="url(#bl)" opacity="0.221" transform="rotate(10.0 1135.8 847.2)"/>
<ellipse cx="1182.9" cy="884.9" rx="15.6" ry="9.3" fill="url(#bl)" opacity="0.420"/>
<ellipse cx="1088.6" cy="906.6" rx="19.8" ry="14.4" fill="url(#bl)" opacity="0.255"/>
<ellipse cx="1135.8" cy="915.1" rx="22.4" ry="27.6" fill="url(#bl)" opacity="0.291"/>
<ellipse cx="1181.0" cy="920.8" rx="26.6" ry="30.4" fill="url(#bl)" opacity="0.221"/>
<ellipse cx="1135.8" cy="947.2" rx="18.3" ry="15.0" fill="url(#bl)" opacity="0.330"/>
<ellipse cx="1177.3" cy="958.5" rx="19.9" ry="16.6" fill="url(#bl)" opacity="0.330"/>
<ellipse cx="1223.5" cy="960.4" rx="12.4" ry="23.3" fill="url(#bl)" opacity="0.420" transform="rotate(-20.0 1223.5 960.4)"/>
<ellipse cx="1222.5" cy="962.3" rx="22.8" ry="36.1" fill="url(#bl)" opacity="0.221"/>
<ellipse cx="1222.5" cy="992.5" rx="16.2" ry="19.8" fill="url(#bl)" opacity="0.255"/>
<ellipse cx="1173.5" cy="984.9" rx="20.9" ry="15.2" fill="url(#bl)" opacity="0.221"/>
<ellipse cx="1088.6" cy="973.6" rx="14.7" ry="27.3" fill="url(#bl)" opacity="0.175"/>
<ellipse cx="1090.5" cy="1003.8" rx="16.8" ry="12.6" fill="url(#bl)" opacity="0.175"/>
<ellipse cx="1132.0" cy="1000.0" rx="14.2" ry="18.9" fill="url(#bl)" opacity="0.083"/>
<ellipse cx="1225.4" cy="888.7" rx="23.0" ry="55.2" fill="url(#bl)" opacity="0.099"/>
<ellipse cx="1235.8" cy="907.5" rx="12.1" ry="14.5" fill="url(#bl)" opacity="0.134"/>
<ellipse cx="1075.4" cy="809.4" rx="11.8" ry="15.7" fill="url(#bl)" opacity="0.077"/>
<ellipse cx="1228.2" cy="807.5" rx="14.2" ry="15.7" fill="url(#bl)" opacity="0.077"/>
<ellipse cx="1033.9" cy="939.6" rx="11.8" ry="12.6" fill="url(#bl)" opacity="0.077"/>
<ellipse cx="1047.1" cy="950.9" rx="9.4" ry="12.6" fill="url(#bl)" opacity="0.066"/>
<ellipse cx="1298.0" cy="807.5" rx="9.4" ry="18.9" fill="url(#bl)" opacity="0.066"/>
<ellipse cx="1016.9" cy="811.3" rx="9.4" ry="25.2" fill="url(#bl)" opacity="0.083"/>
</g></g>
<clipPath id="cpd4"><rect x="1318.0" y="592.7" width="288.0" height="415.9"/></clipPath>
<g clip-path="url(#cpd4)"><g filter="url(#cm)">
<rect x="1316.0" y="590.7" width="292.0" height="419.9" fill="#000"/>
<ellipse cx="1446.0" cy="616.7" rx="38.4" ry="32.0" fill="url(#bl)" opacity="0.230"/>
<ellipse cx="1486.0" cy="616.7" rx="48.0" ry="32.0" fill="url(#bl)" opacity="0.230"/>
<ellipse cx="1478.0" cy="648.7" rx="38.4" ry="32.0" fill="url(#bl)" opacity="0.230"/>
<ellipse cx="1430.0" cy="664.7" rx="32.0" ry="25.6" fill="url(#bl)" opacity="0.230"/>
<ellipse cx="1494.0" cy="696.7" rx="25.6" ry="38.4" fill="url(#bl)" opacity="0.230"/>
<ellipse cx="1446.0" cy="704.7" rx="19.2" ry="32.0" fill="url(#bl)" opacity="0.207"/>
<ellipse cx="1486.0" cy="752.7" rx="19.2" ry="64.0" fill="url(#bl)" opacity="0.230"/>
<ellipse cx="1422.0" cy="736.7" rx="25.6" ry="32.0" fill="url(#bl)" opacity="0.207"/>
<ellipse cx="1470.0" cy="800.7" rx="25.6" ry="38.4" fill="url(#bl)" opacity="0.230"/>
<ellipse cx="1454.0" cy="848.7" rx="32.0" ry="48.0" fill="url(#bl)" opacity="0.230"/>
<ellipse cx="1478.0" cy="888.7" rx="25.6" ry="38.4" fill="url(#bl)" opacity="0.230"/>
<ellipse cx="1438.0" cy="904.7" rx="22.4" ry="38.4" fill="url(#bl)" opacity="0.230"/>
<ellipse cx="1438.0" cy="976.7" rx="19.2" ry="48.0" fill="url(#bl)" opacity="0.230"/>
<ellipse cx="1481.2" cy="976.7" rx="22.4" ry="48.0" fill="url(#bl)" opacity="0.230"/>
<ellipse cx="1382.0" cy="936.7" rx="16.0" ry="80.0" fill="url(#bl)" opacity="0.230"/>
<ellipse cx="1542.0" cy="936.7" rx="12.8" ry="64.0" fill="url(#bl)" opacity="0.207"/>
<ellipse cx="1321.2" cy="784.7" rx="12.8" ry="256.0" fill="url(#bl)" opacity="0.230"/>
<ellipse cx="1376.9" cy="630.3" rx="14.3" ry="13.0" fill="url(#bm)" opacity="0.620"/>
<ellipse cx="1375.9" cy="630.3" rx="28.2" ry="26.3" fill="url(#bl)" opacity="0.221"/>
<ellipse cx="1376.9" cy="608.8" rx="10.3" ry="13.2" fill="url(#bl)" opacity="0.510"/>
<ellipse cx="1375.9" cy="607.9" rx="18.8" ry="26.3" fill="url(#bl)" opacity="0.221"/>
<ellipse cx="1321.7" cy="616.3" rx="9.0" ry="15.1" fill="url(#bl)" opacity="0.460"/>
<ellipse cx="1321.7" cy="685.5" rx="12.5" ry="228.5" fill="url(#bl)" opacity="0.175"/>
<ellipse cx="1319.9" cy="760.2" rx="7.3" ry="14.7" fill="url(#bl)" opacity="0.510"/>
<ellipse cx="1445.1" cy="627.5" rx="20.1" ry="8.6" fill="url(#bl)" opacity="0.560"/>
<ellipse cx="1444.2" cy="627.5" rx="33.9" ry="18.8" fill="url(#bl)" opacity="0.221"/>
<ellipse cx="1495.6" cy="629.4" rx="23.0" ry="14.0" fill="url(#bm)" opacity="0.720"/>
<ellipse cx="1495.6" cy="631.3" rx="41.4" ry="28.2" fill="url(#bl)" opacity="0.221"/>
<ellipse cx="1535.8" cy="627.5" rx="12.8" ry="12.8" fill="url(#bl)" opacity="0.580"/>
<ellipse cx="1535.8" cy="607.0" rx="15.1" ry="18.8" fill="url(#bl)" opacity="0.221"/>
<ellipse cx="1497.4" cy="657.4" rx="22.6" ry="13.6" fill="url(#bl)" opacity="0.460" transform="rotate(-15.0 1497.4 657.4)"/>
<ellipse cx="1497.4" cy="657.4" rx="35.8" ry="26.3" fill="url(#bl)" opacity="0.221" transform="rotate(-15.0 1497.4 657.4)"/>
<ellipse cx="1487.2" cy="688.3" rx="13.3" ry="10.4" fill="url(#bl)" opacity="0.490"/>
<ellipse cx="1487.2" cy="689.2" rx="24.5" ry="22.6" fill="url(#bl)" opacity="0.221"/>
<ellipse cx="1441.4" cy="646.2" rx="12.5" ry="12.5" fill="url(#bl)" opacity="0.255"/>
<ellipse cx="1437.6" cy="603.2" rx="27.1" ry="15.5" fill="url(#bl)" opacity="0.205"/>
<ellipse cx="1486.2" cy="599.5" rx="29.1" ry="16.6" fill="url(#bl)" opacity="0.175"/>
<ellipse cx="1508.7" cy="612.6" rx="16.1" ry="12.5" fill="url(#bl)" opacity="0.255"/>
<ellipse cx="1405.9" cy="653.7" rx="18.8" ry="13.2" fill="url(#bl)" opacity="0.221"/>
<ellipse cx="1420.8" cy="640.6" rx="33.5" ry="28.7" fill="url(#bl)" opacity="0.134"/>
<ellipse cx="1452.6" cy="674.2" rx="14.5" ry="16.6" fill="url(#bl)" opacity="0.110"/>
<ellipse cx="1438.6" cy="700.4" rx="19.2" ry="33.5" fill="url(#bl)" opacity="0.134"/>
<ellipse cx="1448.8" cy="732.2" rx="16.6" ry="27.6" fill="url(#bl)" opacity="0.110"/>
<ellipse cx="1377.8" cy="689.2" rx="12.4" ry="16.6" fill="url(#bl)" opacity="0.110"/>
<ellipse cx="1394.6" cy="708.8" rx="11.7" ry="10.2" fill="url(#bl)" opacity="0.530"/>
<ellipse cx="1394.6" cy="708.8" rx="22.6" ry="22.6" fill="url(#bl)" opacity="0.221"/>
<ellipse cx="1409.6" cy="726.6" rx="20.8" ry="20.8" fill="url(#bl)" opacity="0.175"/>
<ellipse cx="1527.3" cy="701.3" rx="13.9" ry="29.1" fill="url(#bm)" opacity="0.780" transform="rotate(40.0 1527.3 701.3)"/>
<ellipse cx="1525.5" cy="702.3" rx="30.1" ry="52.7" fill="url(#bl)" opacity="0.221" transform="rotate(40.0 1525.5 702.3)"/>
<ellipse cx="1493.7" cy="735.9" rx="18.7" ry="14.4" fill="url(#bl)" opacity="0.560"/>
<ellipse cx="1504.9" cy="722.8" rx="15.6" ry="12.5" fill="url(#bl)" opacity="0.400" transform="rotate(40.0 1504.9 722.8)"/>
<ellipse cx="1489.0" cy="765.8" rx="9.2" ry="15.4" fill="url(#bl)" opacity="0.420"/>
<ellipse cx="1488.1" cy="788.3" rx="9.4" ry="15.6" fill="url(#bl)" opacity="0.400"/>
<ellipse cx="1490.9" cy="760.2" rx="19.7" ry="78.6" fill="url(#bl)" opacity="0.255"/>
<ellipse cx="1529.2" cy="765.8" rx="11.7" ry="15.6" fill="url(#bl)" opacity="0.083"/>
<ellipse cx="1355.4" cy="762.1" rx="14.0" ry="12.5" fill="url(#bl)" opacity="0.083"/>
<ellipse cx="1402.1" cy="775.2" rx="9.3" ry="18.7" fill="url(#bl)" opacity="0.066"/>
<ellipse cx="1441.4" cy="778.9" rx="14.5" ry="27.0" fill="url(#bl)" opacity="0.175"/>
<ellipse cx="1585.3" cy="692.9" rx="14.0" ry="9.3" fill="url(#bl)" opacity="0.077"/>
<ellipse cx="1600.2" cy="694.8" rx="9.3" ry="9.3" fill="url(#bl)" opacity="0.055"/>
<ellipse cx="1561.0" cy="612.6" rx="7.0" ry="9.3" fill="url(#bl)" opacity="0.055"/>
<ellipse cx="1347.9" cy="649.9" rx="9.3" ry="9.3" fill="url(#bl)" opacity="0.066"/>
<ellipse cx="1409.6" cy="620.0" rx="11.7" ry="12.5" fill="url(#bl)" opacity="0.066"/>
<ellipse cx="1523.6" cy="793.9" rx="13.7" ry="18.2" fill="url(#bl)" opacity="0.099"/>
<ellipse cx="1611.5" cy="590.5" rx="32.0" ry="10.1" fill="url(#bf)" opacity="1.000"/>
<ellipse cx="1453.8" cy="850.9" rx="13.7" ry="18.2" fill="url(#bl)" opacity="0.460"/>
<ellipse cx="1452.9" cy="850.9" rx="24.7" ry="34.2" fill="url(#bl)" opacity="0.221"/>
<ellipse cx="1476.5" cy="849.1" rx="13.7" ry="24.3" fill="url(#bl)" opacity="0.460" transform="rotate(-30.0 1476.5 849.1)"/>
<ellipse cx="1480.3" cy="852.8" rx="32.5" ry="46.9" fill="url(#bl)" opacity="0.255"/>
<ellipse cx="1442.5" cy="815.1" rx="15.2" ry="15.2" fill="url(#bl)" opacity="0.221"/>
<ellipse cx="1461.4" cy="809.4" rx="16.8" ry="21.0" fill="url(#bl)" opacity="0.175"/>
<ellipse cx="1487.8" cy="803.8" rx="14.4" ry="14.4" fill="url(#bl)" opacity="0.255"/>
<ellipse cx="1399.1" cy="877.4" rx="14.2" ry="15.7" fill="url(#bl)" opacity="0.083"/>
<ellipse cx="1431.2" cy="866.0" rx="23.0" ry="18.4" fill="url(#bl)" opacity="0.099"/>
<ellipse cx="1472.7" cy="883.0" rx="16.8" ry="12.6" fill="url(#bl)" opacity="0.175"/>
<ellipse cx="1433.1" cy="907.5" rx="9.3" ry="9.3" fill="url(#bl)" opacity="0.420"/>
<ellipse cx="1434.0" cy="913.2" rx="19.8" ry="36.1" fill="url(#bl)" opacity="0.255"/>
<ellipse cx="1485.9" cy="911.3" rx="9.3" ry="9.3" fill="url(#bl)" opacity="0.420"/>
<ellipse cx="1485.9" cy="911.3" rx="25.3" ry="25.3" fill="url(#bl)" opacity="0.255"/>
<ellipse cx="1374.6" cy="917.0" rx="13.8" ry="19.0" fill="url(#bl)" opacity="0.291"/>
<ellipse cx="1378.4" cy="949.1" rx="9.1" ry="10.6" fill="url(#bl)" opacity="0.460"/>
<ellipse cx="1378.4" cy="950.0" rx="17.1" ry="28.5" fill="url(#bl)" opacity="0.221"/>
<ellipse cx="1436.9" cy="950.9" rx="20.9" ry="22.8" fill="url(#bl)" opacity="0.221"/>
<ellipse cx="1484.0" cy="960.4" rx="39.7" ry="14.4" fill="url(#bl)" opacity="0.255"/>
<ellipse cx="1542.5" cy="954.7" rx="14.7" ry="31.5" fill="url(#bl)" opacity="0.175"/>
<ellipse cx="1384.0" cy="979.2" rx="13.3" ry="19.0" fill="url(#bl)" opacity="0.221"/>
<ellipse cx="1385.9" cy="1003.8" rx="14.4" ry="12.6" fill="url(#bl)" opacity="0.255"/>
<ellipse cx="1436.9" cy="990.6" rx="16.2" ry="25.3" fill="url(#bl)" opacity="0.255"/>
<ellipse cx="1484.0" cy="989.6" rx="17.1" ry="26.6" fill="url(#bl)" opacity="0.221"/>
<ellipse cx="1535.0" cy="1000.0" rx="16.8" ry="16.8" fill="url(#bl)" opacity="0.175"/>
<ellipse cx="1538.8" cy="913.2" rx="29.9" ry="21.5" fill="url(#bl)" opacity="0.099"/>
<ellipse cx="1525.5" cy="875.5" rx="14.2" ry="18.9" fill="url(#bl)" opacity="0.083"/>
<ellipse cx="1442.5" cy="932.1" rx="11.8" ry="15.7" fill="url(#bl)" opacity="0.066"/>
<ellipse cx="1572.7" cy="949.1" rx="11.8" ry="12.6" fill="url(#bl)" opacity="0.066"/>
<ellipse cx="1325.5" cy="977.4" rx="14.2" ry="12.6" fill="url(#bl)" opacity="0.066"/>
<ellipse cx="1353.8" cy="828.3" rx="9.4" ry="9.4" fill="url(#bl)" opacity="0.066"/>
<ellipse cx="1380.3" cy="828.3" rx="7.1" ry="9.4" fill="url(#bl)" opacity="0.055"/>
<ellipse cx="1597.2" cy="962.3" rx="9.4" ry="12.6" fill="url(#bl)" opacity="0.055"/>
<ellipse cx="1320.8" cy="805.7" rx="8.4" ry="22.3" fill="url(#bl)" opacity="0.110"/>
</g></g>
<clipPath id="cpd5"><rect x="1620.5" y="592.7" width="288.0" height="415.9"/></clipPath>
<g clip-path="url(#cpd5)"><g filter="url(#cm)">
<rect x="1618.5" y="590.7" width="292.0" height="419.9" fill="#000"/>
<ellipse cx="1732.5" cy="616.7" rx="32.0" ry="25.6" fill="url(#bl)" opacity="0.230"/>
<ellipse cx="1788.5" cy="640.7" rx="32.0" ry="48.0" fill="url(#bl)" opacity="0.230"/>
<ellipse cx="1748.5" cy="664.7" rx="48.0" ry="25.6" fill="url(#bl)" opacity="0.207"/>
<ellipse cx="1796.5" cy="704.7" rx="25.6" ry="48.0" fill="url(#bl)" opacity="0.230"/>
<ellipse cx="1724.5" cy="720.7" rx="25.6" ry="25.6" fill="url(#bl)" opacity="0.207"/>
<ellipse cx="1780.5" cy="744.7" rx="25.6" ry="48.0" fill="url(#bl)" opacity="0.230"/>
<ellipse cx="1772.5" cy="792.7" rx="32.0" ry="38.4" fill="url(#bl)" opacity="0.230"/>
<ellipse cx="1764.5" cy="832.7" rx="25.6" ry="32.0" fill="url(#bl)" opacity="0.230"/>
<ellipse cx="1783.7" cy="872.7" rx="25.6" ry="48.0" fill="url(#bl)" opacity="0.230"/>
<ellipse cx="1740.5" cy="888.7" rx="22.4" ry="38.4" fill="url(#bl)" opacity="0.230"/>
<ellipse cx="1740.5" cy="944.7" rx="16.0" ry="38.4" fill="url(#bl)" opacity="0.207"/>
<ellipse cx="1780.5" cy="976.7" rx="25.6" ry="38.4" fill="url(#bl)" opacity="0.230"/>
<ellipse cx="1732.5" cy="984.7" rx="19.2" ry="32.0" fill="url(#bl)" opacity="0.207"/>
<ellipse cx="1676.5" cy="944.7" rx="16.0" ry="80.0" fill="url(#bl)" opacity="0.230"/>
<ellipse cx="1623.7" cy="752.7" rx="12.8" ry="224.0" fill="url(#bl)" opacity="0.230"/>
<ellipse cx="1676.1" cy="612.6" rx="8.9" ry="8.9" fill="url(#bl)" opacity="0.480"/>
<ellipse cx="1674.2" cy="610.7" rx="26.3" ry="18.8" fill="url(#bl)" opacity="0.221" transform="rotate(30.0 1674.2 610.7)"/>
<ellipse cx="1752.7" cy="607.9" rx="13.0" ry="9.1" fill="url(#bm)" opacity="0.620"/>
<ellipse cx="1749.0" cy="608.8" rx="33.9" ry="26.3" fill="url(#bl)" opacity="0.221"/>
<ellipse cx="1799.4" cy="599.5" rx="11.3" ry="12.7" fill="url(#bl)" opacity="0.610"/>
<ellipse cx="1798.5" cy="601.3" rx="20.7" ry="26.3" fill="url(#bl)" opacity="0.221"/>
<ellipse cx="1804.1" cy="636.9" rx="14.6" ry="17.6" fill="url(#bl)" opacity="0.520"/>
<ellipse cx="1805.0" cy="635.9" rx="26.3" ry="32.0" fill="url(#bl)" opacity="0.221"/>
<ellipse cx="1796.6" cy="668.6" rx="11.5" ry="10.1" fill="url(#bl)" opacity="0.560"/>
<ellipse cx="1796.6" cy="667.7" rx="24.5" ry="24.5" fill="url(#bl)" opacity="0.221"/>
<ellipse cx="1853.6" cy="616.3" rx="16.1" ry="21.4" fill="url(#bl)" opacity="0.255"/>
<ellipse cx="1849.9" cy="638.7" rx="12.4" ry="27.6" fill="url(#bl)" opacity="0.110"/>
<ellipse cx="1676.1" cy="645.3" rx="9.0" ry="7.5" fill="url(#bl)" opacity="0.460"/>
<ellipse cx="1676.1" cy="641.5" rx="21.4" ry="21.4" fill="url(#bl)" opacity="0.255"/>
<ellipse cx="1624.7" cy="636.9" rx="9.5" ry="12.7" fill="url(#bl)" opacity="0.380"/>
<ellipse cx="1623.7" cy="691.1" rx="7.5" ry="12.0" fill="url(#bl)" opacity="0.460"/>
<ellipse cx="1623.7" cy="694.8" rx="13.6" ry="217.1" fill="url(#bl)" opacity="0.205"/>
<ellipse cx="1622.8" cy="750.9" rx="6.0" ry="15.1" fill="url(#bl)" opacity="0.460"/>
<ellipse cx="1622.8" cy="777.0" rx="6.0" ry="13.6" fill="url(#bl)" opacity="0.460"/>
<ellipse cx="1625.6" cy="663.0" rx="11.3" ry="15.1" fill="url(#bl)" opacity="0.221"/>
<ellipse cx="1696.6" cy="716.3" rx="14.1" ry="11.3" fill="url(#bl)" opacity="0.610" transform="rotate(30.0 1696.6 716.3)"/>
<ellipse cx="1696.6" cy="717.2" rx="28.2" ry="28.2" fill="url(#bl)" opacity="0.221" transform="rotate(30.0 1696.6 717.2)"/>
<ellipse cx="1728.4" cy="648.1" rx="72.9" ry="42.5" fill="url(#bl)" opacity="0.099"/>
<ellipse cx="1741.5" cy="670.5" rx="14.0" ry="24.9" fill="url(#bl)" opacity="0.083"/>
<ellipse cx="1732.1" cy="729.4" rx="59.2" ry="24.3" fill="url(#bl)" opacity="0.099"/>
<ellipse cx="1760.2" cy="739.7" rx="12.4" ry="22.1" fill="url(#bl)" opacity="0.110"/>
<ellipse cx="1833.1" cy="709.8" rx="17.1" ry="31.8" fill="url(#bm)" opacity="1.000" transform="rotate(40.0 1833.1 709.8)"/>
<ellipse cx="1829.3" cy="713.5" rx="35.8" ry="60.2" fill="url(#bl)" opacity="0.221" transform="rotate(40.0 1829.3 713.5)"/>
<ellipse cx="1808.8" cy="734.1" rx="12.3" ry="12.3" fill="url(#bl)" opacity="0.420"/>
<ellipse cx="1799.4" cy="737.8" rx="15.6" ry="12.5" fill="url(#bl)" opacity="0.400"/>
<ellipse cx="1798.5" cy="760.2" rx="23.2" ry="78.6" fill="url(#bl)" opacity="0.255"/>
<ellipse cx="1795.7" cy="773.3" rx="11.8" ry="17.6" fill="url(#bl)" opacity="0.510"/>
<ellipse cx="1799.4" cy="689.2" rx="20.7" ry="11.3" fill="url(#bl)" opacity="0.221"/>
<ellipse cx="1797.6" cy="711.6" rx="17.9" ry="10.7" fill="url(#bl)" opacity="0.255"/>
<ellipse cx="1775.1" cy="696.7" rx="21.6" ry="14.4" fill="url(#bl)" opacity="0.134"/>
<ellipse cx="1769.5" cy="670.5" rx="10.4" ry="27.6" fill="url(#bl)" opacity="0.110"/>
<ellipse cx="1825.6" cy="659.3" rx="18.7" ry="14.5" fill="url(#bl)" opacity="0.175"/>
<ellipse cx="1780.7" cy="601.3" rx="16.6" ry="13.8" fill="url(#bl)" opacity="0.110"/>
<ellipse cx="1732.1" cy="756.5" rx="18.7" ry="16.6" fill="url(#bl)" opacity="0.175"/>
<ellipse cx="1741.5" cy="790.1" rx="14.3" ry="17.9" fill="url(#bl)" opacity="0.255"/>
<ellipse cx="1709.7" cy="593.9" rx="14.0" ry="9.3" fill="url(#bl)" opacity="0.083"/>
<ellipse cx="1896.6" cy="691.1" rx="18.7" ry="9.3" fill="url(#bl)" opacity="0.066"/>
<ellipse cx="1892.9" cy="747.1" rx="14.0" ry="9.3" fill="url(#bl)" opacity="0.066"/>
<ellipse cx="1842.4" cy="760.2" rx="9.3" ry="12.5" fill="url(#bl)" opacity="0.066"/>
<ellipse cx="1668.6" cy="777.0" rx="16.4" ry="12.5" fill="url(#bl)" opacity="0.083"/>
<ellipse cx="1706.0" cy="788.3" rx="9.3" ry="12.5" fill="url(#bl)" opacity="0.066"/>
<ellipse cx="1902.2" cy="778.9" rx="9.3" ry="18.7" fill="url(#bl)" opacity="0.066"/>
<ellipse cx="1646.2" cy="689.2" rx="11.7" ry="9.3" fill="url(#bl)" opacity="0.066"/>
<ellipse cx="1915.3" cy="590.1" rx="50.7" ry="13.3" fill="url(#bf)" opacity="1.000"/>
<ellipse cx="1767.2" cy="843.4" rx="11.9" ry="8.9" fill="url(#bl)" opacity="0.510"/>
<ellipse cx="1765.3" cy="834.0" rx="25.3" ry="50.5" fill="url(#bl)" opacity="0.255"/>
<ellipse cx="1786.0" cy="830.2" rx="28.3" ry="52.6" fill="url(#bl)" opacity="0.190"/>
<ellipse cx="1784.2" cy="830.2" rx="14.2" ry="18.9" fill="url(#bl)" opacity="0.000"/>
<ellipse cx="1797.4" cy="886.8" rx="15.5" ry="13.8" fill="url(#bl)" opacity="0.291"/>
<ellipse cx="1814.3" cy="849.1" rx="19.3" ry="29.0" fill="url(#bl)" opacity="0.134"/>
<ellipse cx="1812.5" cy="805.7" rx="16.8" ry="12.6" fill="url(#bl)" opacity="0.175"/>
<ellipse cx="1725.7" cy="839.6" rx="14.6" ry="16.7" fill="url(#bl)" opacity="0.110"/>
<ellipse cx="1731.3" cy="881.1" rx="25.2" ry="46.1" fill="url(#bl)" opacity="0.175"/>
<ellipse cx="1784.2" cy="917.0" rx="7.9" ry="7.9" fill="url(#bl)" opacity="0.400"/>
<ellipse cx="1783.2" cy="917.0" rx="23.5" ry="18.0" fill="url(#bl)" opacity="0.255"/>
<ellipse cx="1733.2" cy="922.6" rx="32.5" ry="14.4" fill="url(#bl)" opacity="0.255"/>
<ellipse cx="1733.2" cy="947.2" rx="16.8" ry="16.8" fill="url(#bl)" opacity="0.175"/>
<ellipse cx="1674.7" cy="905.7" rx="16.8" ry="25.2" fill="url(#bl)" opacity="0.175"/>
<ellipse cx="1671.9" cy="954.7" rx="16.2" ry="21.6" fill="url(#bl)" opacity="0.255"/>
<ellipse cx="1667.2" cy="977.4" rx="17.1" ry="17.1" fill="url(#bl)" opacity="0.221"/>
<ellipse cx="1682.3" cy="1001.9" rx="16.8" ry="16.8" fill="url(#bl)" opacity="0.175"/>
<ellipse cx="1627.5" cy="937.7" rx="18.9" ry="12.6" fill="url(#bl)" opacity="0.083"/>
<ellipse cx="1801.1" cy="952.8" rx="16.8" ry="21.0" fill="url(#bl)" opacity="0.175"/>
<ellipse cx="1737.0" cy="984.9" rx="22.8" ry="30.4" fill="url(#bl)" opacity="0.221"/>
<ellipse cx="1786.0" cy="986.8" rx="30.4" ry="34.2" fill="url(#bl)" opacity="0.221"/>
<ellipse cx="1846.4" cy="952.8" rx="19.3" ry="19.3" fill="url(#bl)" opacity="0.134"/>
<ellipse cx="1837.0" cy="913.2" rx="11.8" ry="15.7" fill="url(#bl)" opacity="0.066"/>
<ellipse cx="1863.4" cy="917.0" rx="11.8" ry="9.4" fill="url(#bl)" opacity="0.055"/>
<ellipse cx="1699.2" cy="813.2" rx="11.8" ry="9.4" fill="url(#bl)" opacity="0.066"/>
<ellipse cx="1687.9" cy="866.0" rx="11.8" ry="15.7" fill="url(#bl)" opacity="0.066"/>
<ellipse cx="1621.9" cy="818.9" rx="8.4" ry="50.3" fill="url(#bl)" opacity="0.175"/>
<ellipse cx="1621.9" cy="1007.5" rx="8.9" ry="5.9" fill="url(#bl)" opacity="0.510"/>
</g></g>
<g clip-path="url(#cpd2)" fill="none" stroke-width="2.7">
<ellipse cx="857.0" cy="944.7" rx="57.6" ry="29.8" stroke="#000" stroke-dasharray="6.6 7.8"/>
<ellipse cx="857.0" cy="944.7" rx="24.8" ry="73.0" stroke="#ff1a1a" stroke-dasharray="6.6 7.8"/>
<path d="M797.5,631.1 C797.8,634.0 797.9,640.7 799.4,648.7 C800.9,656.7 803.6,668.7 806.8,679.1 C810.0,689.5 814.3,700.7 818.6,711.1 C822.9,721.5 827.9,731.6 832.5,741.5 C837.1,751.4 843.3,763.1 846.3,770.3 C849.2,777.5 850.9,778.3 850.3,784.7 C849.7,791.1 846.5,799.9 842.6,808.7 C838.7,817.5 831.6,828.2 826.6,837.5 C821.6,846.8 816.7,854.8 812.7,864.7 C808.7,874.6 805.4,886.8 802.8,896.7 C800.1,906.6 798.0,915.9 796.8,923.9 C795.7,931.9 795.7,936.2 796.0,944.7 C796.4,953.2 796.8,964.2 798.9,975.1 C801.1,986.0 807.3,1004.4 809.0,1010.3" stroke="#0a40ff" stroke-dasharray="6.6 7.8"/>
<path d="M916.5,631.1 C916.2,634.0 916.1,640.7 914.6,648.7 C913.1,656.7 910.4,668.7 907.2,679.1 C904.0,689.5 899.7,700.7 895.4,711.1 C891.1,721.5 886.1,731.6 881.5,741.5 C876.9,751.4 870.7,763.1 867.7,770.3 C864.8,777.5 863.1,778.3 863.7,784.7 C864.3,791.1 867.5,799.9 871.4,808.7 C875.3,817.5 882.4,828.2 887.4,837.5 C892.4,846.8 897.3,854.8 901.3,864.7 C905.3,874.6 908.6,886.8 911.2,896.7 C913.9,906.6 916.0,915.9 917.2,923.9 C918.3,931.9 918.3,936.2 918.0,944.7 C917.6,953.2 917.2,964.2 915.1,975.1 C912.9,986.0 906.7,1004.4 905.0,1010.3" stroke="#0a40ff" stroke-dasharray="6.6 7.8"/>
</g>
<g clip-path="url(#cpd3)" fill="none" stroke-width="2.7">
<ellipse cx="1159.5" cy="944.7" rx="72.8" ry="29.8" stroke="#000" stroke-dasharray="6.6 7.8"/>
<ellipse cx="1159.5" cy="944.7" rx="26.4" ry="86.4" stroke="#ff1a1a" stroke-dasharray="6.6 7.8"/>
<path d="M1080.5,627.9 C1080.8,631.4 1081.3,641.0 1082.7,648.7 C1084.1,656.4 1086.4,666.2 1089.1,674.3 C1091.8,682.4 1094.7,690.3 1098.7,697.5 C1102.7,704.7 1108.3,711.1 1113.1,717.5 C1117.9,723.9 1123.6,730.0 1127.5,735.9 C1131.4,741.8 1134.0,747.2 1136.3,752.7 C1138.6,758.2 1139.8,762.0 1141.1,768.7 C1142.4,775.4 1144.1,787.1 1144.0,792.7 C1143.9,798.3 1143.1,796.1 1140.6,802.3 C1138.1,808.5 1133.6,821.7 1129.1,830.1 C1124.6,838.6 1118.6,844.7 1113.6,852.9 C1108.5,861.0 1103.5,869.7 1098.7,879.1 C1093.9,888.5 1087.9,898.6 1084.9,909.5 C1082.0,920.4 1081.1,933.5 1081.1,944.7 C1081.1,955.9 1082.1,965.8 1084.8,976.7 C1087.4,987.6 1095.0,1004.7 1097.1,1010.3" stroke="#0a40ff" stroke-dasharray="6.6 7.8"/>
<path d="M1238.5,627.9 C1238.2,631.4 1237.7,641.0 1236.3,648.7 C1234.9,656.4 1232.6,666.2 1229.9,674.3 C1227.2,682.4 1224.3,690.3 1220.3,697.5 C1216.3,704.7 1210.7,711.1 1205.9,717.5 C1201.1,723.9 1195.4,730.0 1191.5,735.9 C1187.6,741.8 1185.0,747.2 1182.7,752.7 C1180.4,758.2 1179.2,762.0 1177.9,768.7 C1176.6,775.4 1174.9,787.1 1175.0,792.7 C1175.1,798.3 1175.9,796.1 1178.4,802.3 C1180.9,808.5 1185.4,821.7 1189.9,830.1 C1194.4,838.6 1200.4,844.7 1205.4,852.9 C1210.5,861.0 1215.5,869.7 1220.3,879.1 C1225.1,888.5 1231.1,898.6 1234.1,909.5 C1237.0,920.4 1237.9,933.5 1237.9,944.7 C1237.9,955.9 1236.9,965.8 1234.2,976.7 C1231.6,987.6 1224.0,1004.7 1221.9,1010.3" stroke="#0a40ff" stroke-dasharray="6.6 7.8"/>
</g>
<g clip-path="url(#cpd4)" fill="none" stroke-width="2.7">
<ellipse cx="1462.0" cy="944.7" rx="80.0" ry="34.4" stroke="#000" stroke-dasharray="6.6 7.8"/>
<ellipse cx="1462.0" cy="944.7" rx="29.3" ry="102.4" stroke="#ff1a1a" stroke-dasharray="6.6 7.8"/>
<path d="M1372.4,625.7 C1372.5,630.9 1372.0,649.1 1373.2,657.3 C1374.4,665.6 1376.5,668.3 1379.8,675.1 C1383.0,681.9 1388.4,690.8 1392.9,698.3 C1397.4,705.8 1401.8,712.7 1406.8,719.9 C1411.8,727.1 1418.1,734.4 1422.6,741.5 C1427.1,748.6 1431.2,755.1 1433.8,762.3 C1436.5,769.5 1438.3,778.3 1438.6,784.7 C1439.0,791.1 1439.7,791.9 1435.9,800.7 C1432.1,809.5 1422.3,827.4 1415.8,837.7 C1409.3,847.9 1403.1,852.4 1396.9,862.3 C1390.7,872.2 1382.5,887.4 1378.5,897.2 C1374.5,906.9 1374.0,912.5 1372.9,920.9 C1371.8,929.2 1371.6,937.5 1371.9,947.3 C1372.3,957.0 1372.3,968.8 1375.0,979.3 C1377.7,989.8 1385.9,1005.1 1388.1,1010.3" stroke="#0a40ff" stroke-dasharray="6.6 7.8"/>
<path d="M1551.6,625.7 C1551.5,630.9 1552.0,649.1 1550.8,657.3 C1549.6,665.6 1547.5,668.3 1544.2,675.1 C1541.0,681.9 1535.6,690.8 1531.1,698.3 C1526.6,705.8 1522.2,712.7 1517.2,719.9 C1512.2,727.1 1505.9,734.4 1501.4,741.5 C1496.9,748.6 1492.8,755.1 1490.2,762.3 C1487.5,769.5 1485.7,778.3 1485.4,784.7 C1485.0,791.1 1484.3,791.9 1488.1,800.7 C1491.9,809.5 1501.7,827.4 1508.2,837.7 C1514.7,847.9 1520.9,852.4 1527.1,862.3 C1533.3,872.2 1541.5,887.4 1545.5,897.2 C1549.5,906.9 1550.0,912.5 1551.1,920.9 C1552.2,929.2 1552.4,937.5 1552.1,947.3 C1551.7,957.0 1551.7,968.8 1549.0,979.3 C1546.3,989.8 1538.1,1005.1 1535.9,1010.3" stroke="#0a40ff" stroke-dasharray="6.6 7.8"/>
</g>
<g clip-path="url(#cpd5)" fill="none" stroke-width="2.7">
<ellipse cx="1764.5" cy="944.7" rx="86.9" ry="35.2" stroke="#000" stroke-dasharray="6.6 7.8"/>
<ellipse cx="1764.5" cy="944.7" rx="30.4" ry="107.2" stroke="#ff1a1a" stroke-dasharray="6.6 7.8"/>
<path d="M1668.8,625.7 C1669.0,630.0 1669.0,643.5 1670.1,651.9 C1671.2,660.3 1673.2,668.5 1675.7,676.1 C1678.2,683.7 1680.5,690.5 1685.1,697.5 C1689.8,704.5 1697.3,710.8 1703.7,718.1 C1710.1,725.5 1718.4,734.7 1723.4,741.5 C1728.4,748.3 1731.5,751.9 1733.8,759.1 C1736.1,766.3 1736.9,777.8 1737.3,784.7 C1737.7,791.6 1739.0,793.4 1736.2,800.7 C1733.3,808.0 1726.2,818.9 1720.2,828.2 C1714.2,837.6 1706.6,848.1 1700.3,856.7 C1694.0,865.3 1687.0,872.1 1682.4,880.1 C1677.9,888.1 1675.2,895.5 1673.0,904.7 C1670.7,913.9 1669.4,925.4 1668.8,935.1 C1668.2,944.8 1668.4,954.2 1669.3,963.1 C1670.2,972.0 1672.2,980.5 1674.4,988.4 C1676.6,996.2 1681.2,1006.6 1682.6,1010.3" stroke="#0a40ff" stroke-dasharray="6.6 7.8"/>
<path d="M1860.2,625.7 C1860.0,630.0 1860.0,643.5 1858.9,651.9 C1857.8,660.3 1855.8,668.5 1853.3,676.1 C1850.8,683.7 1848.5,690.5 1843.9,697.5 C1839.2,704.5 1831.7,710.8 1825.3,718.1 C1818.9,725.5 1810.6,734.7 1805.6,741.5 C1800.6,748.3 1797.5,751.9 1795.2,759.1 C1792.9,766.3 1792.1,777.8 1791.7,784.7 C1791.3,791.6 1790.0,793.4 1792.8,800.7 C1795.7,808.0 1802.8,818.9 1808.8,828.2 C1814.8,837.6 1822.4,848.1 1828.7,856.7 C1835.0,865.3 1842.0,872.1 1846.6,880.1 C1851.1,888.1 1853.8,895.5 1856.0,904.7 C1858.3,913.9 1859.6,925.4 1860.2,935.1 C1860.8,944.8 1860.6,954.2 1859.7,963.1 C1858.8,972.0 1856.8,980.5 1854.6,988.4 C1852.4,996.2 1847.8,1006.6 1846.4,1010.3" stroke="#0a40ff" stroke-dasharray="6.6 7.8"/>
</g>
<path d="M243.8,49.1 L259.2,29.9 L347.2,33.9 L332.0,53.3 Z M238.1,522.9 L254.3,503.4 L342.4,507.8 L326.0,526.8 Z M243.8,49.1 L238.1,522.9 M259.2,29.9 L254.3,503.4 M347.2,33.9 L342.4,507.8 M332.0,53.3 L326.0,526.8" fill="none" stroke="#333" stroke-width="1.3" stroke-dasharray="5.5 4.5"/>
<line x1="222.3" y1="19.9" x2="240.8" y2="24.9" stroke="#c98452" stroke-width="4.2"/><line x1="222.3" y1="19.9" x2="240.8" y2="24.9" stroke="#f1b98e" stroke-width="1.3"/><line x1="240.8" y1="24.9" x2="259.2" y2="29.9" stroke="#c98452" stroke-width="4.2"/><line x1="240.8" y1="24.9" x2="259.2" y2="29.9" stroke="#f1b98e" stroke-width="1.3"/>
<line x1="259.2" y1="29.9" x2="284.5" y2="27.0" stroke="#c98452" stroke-width="4.2"/><line x1="259.2" y1="29.9" x2="284.5" y2="27.0" stroke="#f1b98e" stroke-width="1.3"/><line x1="284.5" y1="27.0" x2="309.9" y2="24.1" stroke="#c98452" stroke-width="4.2"/><line x1="284.5" y1="27.0" x2="309.9" y2="24.1" stroke="#f1b98e" stroke-width="1.3"/>
<circle cx="222.3" cy="19.9" r="10.9" fill="url(#gSb)"/>
<line x1="309.9" y1="24.1" x2="328.5" y2="29.0" stroke="#c98452" stroke-width="4.2"/><line x1="309.9" y1="24.1" x2="328.5" y2="29.0" stroke="#f1b98e" stroke-width="1.3"/><line x1="328.5" y1="29.0" x2="347.2" y2="33.9" stroke="#c98452" stroke-width="4.2"/><line x1="328.5" y1="29.0" x2="347.2" y2="33.9" stroke="#f1b98e" stroke-width="1.3"/>
<line x1="347.2" y1="33.9" x2="372.9" y2="31.2" stroke="#c98452" stroke-width="4.2"/><line x1="347.2" y1="33.9" x2="372.9" y2="31.2" stroke="#f1b98e" stroke-width="1.3"/><line x1="372.9" y1="31.2" x2="398.6" y2="28.5" stroke="#c98452" stroke-width="4.2"/><line x1="372.9" y1="31.2" x2="398.6" y2="28.5" stroke="#f1b98e" stroke-width="1.3"/>
<circle cx="309.9" cy="24.1" r="10.9" fill="url(#gSb)"/>
<circle cx="398.6" cy="28.5" r="10.9" fill="url(#gSb)"/>
<circle cx="259.2" cy="29.9" r="10.9" fill="url(#gSb)"/>
<circle cx="347.2" cy="33.9" r="10.9" fill="url(#gSb)"/>
<line x1="206.4" y1="38.5" x2="225.1" y2="43.8" stroke="#c98452" stroke-width="4.2"/><line x1="206.4" y1="38.5" x2="225.1" y2="43.8" stroke="#f1b98e" stroke-width="1.3"/><line x1="225.1" y1="43.8" x2="243.8" y2="49.1" stroke="#c98452" stroke-width="4.2"/><line x1="225.1" y1="43.8" x2="243.8" y2="49.1" stroke="#f1b98e" stroke-width="1.3"/>
<line x1="243.8" y1="49.1" x2="269.2" y2="45.9" stroke="#c98452" stroke-width="4.2"/><line x1="243.8" y1="49.1" x2="269.2" y2="45.9" stroke="#f1b98e" stroke-width="1.3"/><line x1="269.2" y1="45.9" x2="294.7" y2="42.7" stroke="#c98452" stroke-width="4.2"/><line x1="269.2" y1="45.9" x2="294.7" y2="42.7" stroke="#f1b98e" stroke-width="1.3"/>
<circle cx="206.4" cy="38.5" r="10.9" fill="url(#gSb)"/>
<line x1="294.7" y1="42.7" x2="313.4" y2="48.0" stroke="#c98452" stroke-width="4.2"/><line x1="294.7" y1="42.7" x2="313.4" y2="48.0" stroke="#f1b98e" stroke-width="1.3"/><line x1="313.4" y1="48.0" x2="332.0" y2="53.3" stroke="#c98452" stroke-width="4.2"/><line x1="313.4" y1="48.0" x2="332.0" y2="53.3" stroke="#f1b98e" stroke-width="1.3"/>
<line x1="332.0" y1="53.3" x2="357.5" y2="50.3" stroke="#c98452" stroke-width="4.2"/><line x1="332.0" y1="53.3" x2="357.5" y2="50.3" stroke="#f1b98e" stroke-width="1.3"/><line x1="357.5" y1="50.3" x2="383.0" y2="47.4" stroke="#c98452" stroke-width="4.2"/><line x1="357.5" y1="50.3" x2="383.0" y2="47.4" stroke="#f1b98e" stroke-width="1.3"/>
<circle cx="294.7" cy="42.7" r="10.9" fill="url(#gSb)"/>
<circle cx="383.0" cy="47.4" r="10.9" fill="url(#gSb)"/>
<circle cx="243.8" cy="49.1" r="10.9" fill="url(#gSb)"/>
<circle cx="332.0" cy="53.3" r="10.9" fill="url(#gSb)"/>
<circle cx="214.1" cy="82.2" r="17.6" fill="url(#gBa)"/>
<circle cx="302.1" cy="86.4" r="17.6" fill="url(#gBa)"/>
<circle cx="390.4" cy="91.1" r="17.6" fill="url(#gBa)"/>
<circle cx="198.2" cy="101.6" r="17.6" fill="url(#gBa)"/>
<circle cx="286.0" cy="105.6" r="17.6" fill="url(#gBa)"/>
<circle cx="374.1" cy="109.8" r="17.6" fill="url(#gBa)"/>
<line x1="220.6" y1="139.0" x2="235.1" y2="133.2" stroke="#3f807c" stroke-width="4.2"/><line x1="220.6" y1="139.0" x2="235.1" y2="133.2" stroke="#8fd0cb" stroke-width="1.3"/><line x1="235.1" y1="133.2" x2="249.6" y2="127.3" stroke="#c98452" stroke-width="4.2"/><line x1="235.1" y1="133.2" x2="249.6" y2="127.3" stroke="#f1b98e" stroke-width="1.3"/>
<circle cx="249.6" cy="127.3" r="10.9" fill="url(#gSb)"/>
<line x1="308.7" y1="142.5" x2="323.0" y2="136.9" stroke="#3f807c" stroke-width="4.2"/><line x1="308.7" y1="142.5" x2="323.0" y2="136.9" stroke="#8fd0cb" stroke-width="1.3"/><line x1="323.0" y1="136.9" x2="337.4" y2="131.3" stroke="#c98452" stroke-width="4.2"/><line x1="323.0" y1="136.9" x2="337.4" y2="131.3" stroke="#f1b98e" stroke-width="1.3"/>
<circle cx="337.4" cy="131.3" r="10.9" fill="url(#gSb)"/>
<line x1="257.3" y1="150.0" x2="253.4" y2="138.7" stroke="#3f807c" stroke-width="4.2"/><line x1="257.3" y1="150.0" x2="253.4" y2="138.7" stroke="#8fd0cb" stroke-width="1.3"/><line x1="253.4" y1="138.7" x2="249.6" y2="127.3" stroke="#c98452" stroke-width="4.2"/><line x1="253.4" y1="138.7" x2="249.6" y2="127.3" stroke="#f1b98e" stroke-width="1.3"/>
<circle cx="220.6" cy="139.0" r="10.6" fill="url(#gMn)"/>
<line x1="344.9" y1="154.2" x2="341.1" y2="142.8" stroke="#3f807c" stroke-width="4.2"/><line x1="344.9" y1="154.2" x2="341.1" y2="142.8" stroke="#8fd0cb" stroke-width="1.3"/><line x1="341.1" y1="142.8" x2="337.4" y2="131.3" stroke="#c98452" stroke-width="4.2"/><line x1="341.1" y1="142.8" x2="337.4" y2="131.3" stroke="#f1b98e" stroke-width="1.3"/>
<circle cx="308.7" cy="142.5" r="10.6" fill="url(#gMn)"/>
<line x1="204.7" y1="157.7" x2="227.1" y2="142.5" stroke="#3f807c" stroke-width="4.2"/><line x1="204.7" y1="157.7" x2="227.1" y2="142.5" stroke="#8fd0cb" stroke-width="1.3"/><line x1="227.1" y1="142.5" x2="249.6" y2="127.3" stroke="#c98452" stroke-width="4.2"/><line x1="227.1" y1="142.5" x2="249.6" y2="127.3" stroke="#f1b98e" stroke-width="1.3"/>
<circle cx="168.5" cy="146.0" r="10.6" fill="url(#gMn)"/>
<circle cx="397.0" cy="147.2" r="10.6" fill="url(#gMn)"/>
<line x1="293.0" y1="161.2" x2="315.2" y2="146.2" stroke="#3f807c" stroke-width="4.2"/><line x1="293.0" y1="161.2" x2="315.2" y2="146.2" stroke="#8fd0cb" stroke-width="1.3"/><line x1="315.2" y1="146.2" x2="337.4" y2="131.3" stroke="#c98452" stroke-width="4.2"/><line x1="315.2" y1="146.2" x2="337.4" y2="131.3" stroke="#f1b98e" stroke-width="1.3"/>
<circle cx="257.3" cy="150.0" r="10.6" fill="url(#gMn)"/>
<line x1="381.1" y1="165.8" x2="359.2" y2="148.6" stroke="#3f807c" stroke-width="4.2"/><line x1="381.1" y1="165.8" x2="359.2" y2="148.6" stroke="#8fd0cb" stroke-width="1.3"/><line x1="359.2" y1="148.6" x2="337.4" y2="131.3" stroke="#c98452" stroke-width="4.2"/><line x1="359.2" y1="148.6" x2="337.4" y2="131.3" stroke="#f1b98e" stroke-width="1.3"/>
<circle cx="344.9" cy="154.2" r="10.6" fill="url(#gMn)"/>
<line x1="241.0" y1="168.6" x2="245.3" y2="147.9" stroke="#3f807c" stroke-width="4.2"/><line x1="241.0" y1="168.6" x2="245.3" y2="147.9" stroke="#8fd0cb" stroke-width="1.3"/><line x1="245.3" y1="147.9" x2="249.6" y2="127.3" stroke="#c98452" stroke-width="4.2"/><line x1="245.3" y1="147.9" x2="249.6" y2="127.3" stroke="#f1b98e" stroke-width="1.3"/>
<circle cx="204.7" cy="157.7" r="10.6" fill="url(#gMn)"/>
<circle cx="433.2" cy="158.4" r="10.6" fill="url(#gMn)"/>
<line x1="329.0" y1="172.8" x2="333.2" y2="152.1" stroke="#3f807c" stroke-width="4.2"/><line x1="329.0" y1="172.8" x2="333.2" y2="152.1" stroke="#8fd0cb" stroke-width="1.3"/><line x1="333.2" y1="152.1" x2="337.4" y2="131.3" stroke="#c98452" stroke-width="4.2"/><line x1="333.2" y1="152.1" x2="337.4" y2="131.3" stroke="#f1b98e" stroke-width="1.3"/>
<circle cx="293.0" cy="161.2" r="10.6" fill="url(#gMn)"/>
<circle cx="152.9" cy="164.7" r="10.6" fill="url(#gMn)"/>
<circle cx="381.1" cy="165.8" r="10.6" fill="url(#gMn)"/>
<line x1="168.5" y1="146.0" x2="190.7" y2="162.9" stroke="#3f807c" stroke-width="4.2"/><line x1="168.5" y1="146.0" x2="190.7" y2="162.9" stroke="#8fd0cb" stroke-width="1.3"/><line x1="190.7" y1="162.9" x2="212.9" y2="179.9" stroke="#c98452" stroke-width="4.2"/><line x1="190.7" y1="162.9" x2="212.9" y2="179.9" stroke="#f1b98e" stroke-width="1.3"/>
<line x1="220.6" y1="139.0" x2="216.8" y2="159.4" stroke="#3f807c" stroke-width="4.2"/><line x1="220.6" y1="139.0" x2="216.8" y2="159.4" stroke="#8fd0cb" stroke-width="1.3"/><line x1="216.8" y1="159.4" x2="212.9" y2="179.9" stroke="#c98452" stroke-width="4.2"/><line x1="216.8" y1="159.4" x2="212.9" y2="179.9" stroke="#f1b98e" stroke-width="1.3"/>
<line x1="204.7" y1="157.7" x2="208.8" y2="168.8" stroke="#3f807c" stroke-width="4.2"/><line x1="204.7" y1="157.7" x2="208.8" y2="168.8" stroke="#8fd0cb" stroke-width="1.3"/><line x1="208.8" y1="168.8" x2="212.9" y2="179.9" stroke="#c98452" stroke-width="4.2"/><line x1="208.8" y1="168.8" x2="212.9" y2="179.9" stroke="#f1b98e" stroke-width="1.3"/>
<line x1="189.6" y1="176.3" x2="201.2" y2="178.1" stroke="#3f807c" stroke-width="4.2"/><line x1="189.6" y1="176.3" x2="201.2" y2="178.1" stroke="#8fd0cb" stroke-width="1.3"/><line x1="201.2" y1="178.1" x2="212.9" y2="179.9" stroke="#c98452" stroke-width="4.2"/><line x1="201.2" y1="178.1" x2="212.9" y2="179.9" stroke="#f1b98e" stroke-width="1.3"/>
<line x1="241.0" y1="168.6" x2="226.9" y2="174.2" stroke="#3f807c" stroke-width="4.2"/><line x1="241.0" y1="168.6" x2="226.9" y2="174.2" stroke="#8fd0cb" stroke-width="1.3"/><line x1="226.9" y1="174.2" x2="212.9" y2="179.9" stroke="#c98452" stroke-width="4.2"/><line x1="226.9" y1="174.2" x2="212.9" y2="179.9" stroke="#f1b98e" stroke-width="1.3"/>
<line x1="257.3" y1="150.0" x2="235.1" y2="164.9" stroke="#3f807c" stroke-width="4.2"/><line x1="257.3" y1="150.0" x2="235.1" y2="164.9" stroke="#8fd0cb" stroke-width="1.3"/><line x1="235.1" y1="164.9" x2="212.9" y2="179.9" stroke="#c98452" stroke-width="4.2"/><line x1="235.1" y1="164.9" x2="212.9" y2="179.9" stroke="#f1b98e" stroke-width="1.3"/>
<circle cx="241.0" cy="168.6" r="10.6" fill="url(#gMn)"/>
<line x1="257.3" y1="150.0" x2="278.9" y2="167.2" stroke="#3f807c" stroke-width="4.2"/><line x1="257.3" y1="150.0" x2="278.9" y2="167.2" stroke="#8fd0cb" stroke-width="1.3"/><line x1="278.9" y1="167.2" x2="300.5" y2="184.5" stroke="#c98452" stroke-width="4.2"/><line x1="278.9" y1="167.2" x2="300.5" y2="184.5" stroke="#f1b98e" stroke-width="1.3"/>
<line x1="308.7" y1="142.5" x2="304.6" y2="163.5" stroke="#3f807c" stroke-width="4.2"/><line x1="308.7" y1="142.5" x2="304.6" y2="163.5" stroke="#8fd0cb" stroke-width="1.3"/><line x1="304.6" y1="163.5" x2="300.5" y2="184.5" stroke="#c98452" stroke-width="4.2"/><line x1="304.6" y1="163.5" x2="300.5" y2="184.5" stroke="#f1b98e" stroke-width="1.3"/>
<line x1="293.0" y1="161.2" x2="296.8" y2="172.8" stroke="#3f807c" stroke-width="4.2"/><line x1="293.0" y1="161.2" x2="296.8" y2="172.8" stroke="#8fd0cb" stroke-width="1.3"/><line x1="296.8" y1="172.8" x2="300.5" y2="184.5" stroke="#c98452" stroke-width="4.2"/><line x1="296.8" y1="172.8" x2="300.5" y2="184.5" stroke="#f1b98e" stroke-width="1.3"/>
<line x1="277.2" y1="180.3" x2="288.9" y2="182.4" stroke="#3f807c" stroke-width="4.2"/><line x1="277.2" y1="180.3" x2="288.9" y2="182.4" stroke="#8fd0cb" stroke-width="1.3"/><line x1="288.9" y1="182.4" x2="300.5" y2="184.5" stroke="#c98452" stroke-width="4.2"/><line x1="288.9" y1="182.4" x2="300.5" y2="184.5" stroke="#f1b98e" stroke-width="1.3"/>
<line x1="329.0" y1="172.8" x2="314.8" y2="178.7" stroke="#3f807c" stroke-width="4.2"/><line x1="329.0" y1="172.8" x2="314.8" y2="178.7" stroke="#8fd0cb" stroke-width="1.3"/><line x1="314.8" y1="178.7" x2="300.5" y2="184.5" stroke="#c98452" stroke-width="4.2"/><line x1="314.8" y1="178.7" x2="300.5" y2="184.5" stroke="#f1b98e" stroke-width="1.3"/>
<line x1="344.9" y1="154.2" x2="322.7" y2="169.3" stroke="#3f807c" stroke-width="4.2"/><line x1="344.9" y1="154.2" x2="322.7" y2="169.3" stroke="#8fd0cb" stroke-width="1.3"/><line x1="322.7" y1="169.3" x2="300.5" y2="184.5" stroke="#c98452" stroke-width="4.2"/><line x1="322.7" y1="169.3" x2="300.5" y2="184.5" stroke="#f1b98e" stroke-width="1.3"/>
<circle cx="329.0" cy="172.8" r="10.6" fill="url(#gMn)"/>
<circle cx="189.6" cy="176.3" r="10.6" fill="url(#gMn)"/>
<line x1="344.9" y1="154.2" x2="366.8" y2="171.4" stroke="#3f807c" stroke-width="4.2"/><line x1="344.9" y1="154.2" x2="366.8" y2="171.4" stroke="#8fd0cb" stroke-width="1.3"/><line x1="366.8" y1="171.4" x2="388.6" y2="188.7" stroke="#c98452" stroke-width="4.2"/><line x1="366.8" y1="171.4" x2="388.6" y2="188.7" stroke="#f1b98e" stroke-width="1.3"/>
<line x1="397.0" y1="147.2" x2="392.8" y2="167.9" stroke="#3f807c" stroke-width="4.2"/><line x1="397.0" y1="147.2" x2="392.8" y2="167.9" stroke="#8fd0cb" stroke-width="1.3"/><line x1="392.8" y1="167.9" x2="388.6" y2="188.7" stroke="#c98452" stroke-width="4.2"/><line x1="392.8" y1="167.9" x2="388.6" y2="188.7" stroke="#f1b98e" stroke-width="1.3"/>
<line x1="381.1" y1="165.8" x2="384.9" y2="177.2" stroke="#3f807c" stroke-width="4.2"/><line x1="381.1" y1="165.8" x2="384.9" y2="177.2" stroke="#8fd0cb" stroke-width="1.3"/><line x1="384.9" y1="177.2" x2="388.6" y2="188.7" stroke="#c98452" stroke-width="4.2"/><line x1="384.9" y1="177.2" x2="388.6" y2="188.7" stroke="#f1b98e" stroke-width="1.3"/>
<line x1="365.9" y1="184.5" x2="377.2" y2="186.6" stroke="#3f807c" stroke-width="4.2"/><line x1="365.9" y1="184.5" x2="377.2" y2="186.6" stroke="#8fd0cb" stroke-width="1.3"/><line x1="377.2" y1="186.6" x2="388.6" y2="188.7" stroke="#c98452" stroke-width="4.2"/><line x1="377.2" y1="186.6" x2="388.6" y2="188.7" stroke="#f1b98e" stroke-width="1.3"/>
<line x1="417.8" y1="177.0" x2="403.2" y2="182.8" stroke="#3f807c" stroke-width="4.2"/><line x1="417.8" y1="177.0" x2="403.2" y2="182.8" stroke="#8fd0cb" stroke-width="1.3"/><line x1="403.2" y1="182.8" x2="388.6" y2="188.7" stroke="#c98452" stroke-width="4.2"/><line x1="403.2" y1="182.8" x2="388.6" y2="188.7" stroke="#f1b98e" stroke-width="1.3"/>
<line x1="433.2" y1="158.4" x2="410.9" y2="173.6" stroke="#3f807c" stroke-width="4.2"/><line x1="433.2" y1="158.4" x2="410.9" y2="173.6" stroke="#8fd0cb" stroke-width="1.3"/><line x1="410.9" y1="173.6" x2="388.6" y2="188.7" stroke="#c98452" stroke-width="4.2"/><line x1="410.9" y1="173.6" x2="388.6" y2="188.7" stroke="#f1b98e" stroke-width="1.3"/>
<circle cx="417.8" cy="177.0" r="10.6" fill="url(#gMn)"/>
<circle cx="212.9" cy="179.9" r="10.9" fill="url(#gSb)"/>
<circle cx="277.2" cy="180.3" r="10.6" fill="url(#gMn)"/>
<circle cx="300.5" cy="184.5" r="10.9" fill="url(#gSb)"/>
<circle cx="365.9" cy="184.5" r="10.6" fill="url(#gMn)"/>
<line x1="152.9" y1="164.7" x2="174.8" y2="181.6" stroke="#3f807c" stroke-width="4.2"/><line x1="152.9" y1="164.7" x2="174.8" y2="181.6" stroke="#8fd0cb" stroke-width="1.3"/><line x1="174.8" y1="181.6" x2="196.6" y2="198.5" stroke="#c98452" stroke-width="4.2"/><line x1="174.8" y1="181.6" x2="196.6" y2="198.5" stroke="#f1b98e" stroke-width="1.3"/>
<line x1="204.7" y1="157.7" x2="200.6" y2="178.1" stroke="#3f807c" stroke-width="4.2"/><line x1="204.7" y1="157.7" x2="200.6" y2="178.1" stroke="#8fd0cb" stroke-width="1.3"/><line x1="200.6" y1="178.1" x2="196.6" y2="198.5" stroke="#c98452" stroke-width="4.2"/><line x1="200.6" y1="178.1" x2="196.6" y2="198.5" stroke="#f1b98e" stroke-width="1.3"/>
<line x1="189.6" y1="176.3" x2="193.1" y2="187.4" stroke="#3f807c" stroke-width="4.2"/><line x1="189.6" y1="176.3" x2="193.1" y2="187.4" stroke="#8fd0cb" stroke-width="1.3"/><line x1="193.1" y1="187.4" x2="196.6" y2="198.5" stroke="#c98452" stroke-width="4.2"/><line x1="193.1" y1="187.4" x2="196.6" y2="198.5" stroke="#f1b98e" stroke-width="1.3"/>
<line x1="241.0" y1="168.6" x2="218.8" y2="183.6" stroke="#3f807c" stroke-width="4.2"/><line x1="241.0" y1="168.6" x2="218.8" y2="183.6" stroke="#8fd0cb" stroke-width="1.3"/><line x1="218.8" y1="183.6" x2="196.6" y2="198.5" stroke="#c98452" stroke-width="4.2"/><line x1="218.8" y1="183.6" x2="196.6" y2="198.5" stroke="#f1b98e" stroke-width="1.3"/>
<circle cx="388.6" cy="188.7" r="10.9" fill="url(#gSb)"/>
<line x1="293.0" y1="161.2" x2="289.1" y2="181.9" stroke="#3f807c" stroke-width="4.2"/><line x1="293.0" y1="161.2" x2="289.1" y2="181.9" stroke="#8fd0cb" stroke-width="1.3"/><line x1="289.1" y1="181.9" x2="285.3" y2="202.7" stroke="#c98452" stroke-width="4.2"/><line x1="289.1" y1="181.9" x2="285.3" y2="202.7" stroke="#f1b98e" stroke-width="1.3"/>
<line x1="277.2" y1="180.3" x2="281.2" y2="191.5" stroke="#3f807c" stroke-width="4.2"/><line x1="277.2" y1="180.3" x2="281.2" y2="191.5" stroke="#8fd0cb" stroke-width="1.3"/><line x1="281.2" y1="191.5" x2="285.3" y2="202.7" stroke="#c98452" stroke-width="4.2"/><line x1="281.2" y1="191.5" x2="285.3" y2="202.7" stroke="#f1b98e" stroke-width="1.3"/>
<line x1="329.0" y1="172.8" x2="307.1" y2="187.8" stroke="#3f807c" stroke-width="4.2"/><line x1="329.0" y1="172.8" x2="307.1" y2="187.8" stroke="#8fd0cb" stroke-width="1.3"/><line x1="307.1" y1="187.8" x2="285.3" y2="202.7" stroke="#c98452" stroke-width="4.2"/><line x1="307.1" y1="187.8" x2="285.3" y2="202.7" stroke="#f1b98e" stroke-width="1.3"/>
<line x1="381.1" y1="165.8" x2="377.0" y2="186.6" stroke="#3f807c" stroke-width="4.2"/><line x1="381.1" y1="165.8" x2="377.0" y2="186.6" stroke="#8fd0cb" stroke-width="1.3"/><line x1="377.0" y1="186.6" x2="372.9" y2="207.4" stroke="#c98452" stroke-width="4.2"/><line x1="377.0" y1="186.6" x2="372.9" y2="207.4" stroke="#f1b98e" stroke-width="1.3"/>
<line x1="365.9" y1="184.5" x2="369.4" y2="195.9" stroke="#3f807c" stroke-width="4.2"/><line x1="365.9" y1="184.5" x2="369.4" y2="195.9" stroke="#8fd0cb" stroke-width="1.3"/><line x1="369.4" y1="195.9" x2="372.9" y2="207.4" stroke="#c98452" stroke-width="4.2"/><line x1="369.4" y1="195.9" x2="372.9" y2="207.4" stroke="#f1b98e" stroke-width="1.3"/>
<line x1="417.8" y1="177.0" x2="395.4" y2="192.2" stroke="#3f807c" stroke-width="4.2"/><line x1="417.8" y1="177.0" x2="395.4" y2="192.2" stroke="#8fd0cb" stroke-width="1.3"/><line x1="395.4" y1="192.2" x2="372.9" y2="207.4" stroke="#c98452" stroke-width="4.2"/><line x1="395.4" y1="192.2" x2="372.9" y2="207.4" stroke="#f1b98e" stroke-width="1.3"/>
<circle cx="196.6" cy="198.5" r="10.9" fill="url(#gSb)"/>
<circle cx="285.3" cy="202.7" r="10.9" fill="url(#gSb)"/>
<circle cx="372.9" cy="207.4" r="10.9" fill="url(#gSb)"/>
<circle cx="248.7" cy="224.5" r="17.6" fill="url(#gBa)"/>
<circle cx="336.7" cy="228.5" r="17.6" fill="url(#gBa)"/>
<line x1="167.4" y1="264.2" x2="186.1" y2="269.2" stroke="#c98452" stroke-width="4.2"/><line x1="167.4" y1="264.2" x2="186.1" y2="269.2" stroke="#f1b98e" stroke-width="1.3"/><line x1="186.1" y1="269.2" x2="204.7" y2="274.3" stroke="#c98452" stroke-width="4.2"/><line x1="186.1" y1="269.2" x2="204.7" y2="274.3" stroke="#f1b98e" stroke-width="1.3"/>
<line x1="204.7" y1="274.3" x2="230.2" y2="271.6" stroke="#c98452" stroke-width="4.2"/><line x1="204.7" y1="274.3" x2="230.2" y2="271.6" stroke="#f1b98e" stroke-width="1.3"/><line x1="230.2" y1="271.6" x2="255.7" y2="268.9" stroke="#c98452" stroke-width="4.2"/><line x1="230.2" y1="271.6" x2="255.7" y2="268.9" stroke="#f1b98e" stroke-width="1.3"/>
<circle cx="167.4" cy="264.2" r="10.9" fill="url(#gSb)"/>
<line x1="255.7" y1="268.9" x2="274.4" y2="273.9" stroke="#c98452" stroke-width="4.2"/><line x1="255.7" y1="268.9" x2="274.4" y2="273.9" stroke="#f1b98e" stroke-width="1.3"/><line x1="274.4" y1="273.9" x2="293.0" y2="279.0" stroke="#c98452" stroke-width="4.2"/><line x1="274.4" y1="273.9" x2="293.0" y2="279.0" stroke="#f1b98e" stroke-width="1.3"/>
<line x1="293.0" y1="279.0" x2="318.4" y2="275.9" stroke="#c98452" stroke-width="4.2"/><line x1="293.0" y1="279.0" x2="318.4" y2="275.9" stroke="#f1b98e" stroke-width="1.3"/><line x1="318.4" y1="275.9" x2="343.7" y2="272.9" stroke="#c98452" stroke-width="4.2"/><line x1="318.4" y1="275.9" x2="343.7" y2="272.9" stroke="#f1b98e" stroke-width="1.3"/>
<circle cx="255.7" cy="268.9" r="10.9" fill="url(#gSb)"/>
<line x1="343.7" y1="272.9" x2="362.4" y2="277.9" stroke="#c98452" stroke-width="4.2"/><line x1="343.7" y1="272.9" x2="362.4" y2="277.9" stroke="#f1b98e" stroke-width="1.3"/><line x1="362.4" y1="277.9" x2="381.1" y2="282.9" stroke="#c98452" stroke-width="4.2"/><line x1="362.4" y1="277.9" x2="381.1" y2="282.9" stroke="#f1b98e" stroke-width="1.3"/>
<line x1="381.1" y1="282.9" x2="406.8" y2="280.0" stroke="#c98452" stroke-width="4.2"/><line x1="381.1" y1="282.9" x2="406.8" y2="280.0" stroke="#f1b98e" stroke-width="1.3"/><line x1="406.8" y1="280.0" x2="432.5" y2="277.1" stroke="#c98452" stroke-width="4.2"/><line x1="406.8" y1="280.0" x2="432.5" y2="277.1" stroke="#f1b98e" stroke-width="1.3"/>
<circle cx="343.7" cy="272.9" r="10.9" fill="url(#gSb)"/>
<circle cx="204.7" cy="274.3" r="10.9" fill="url(#gSb)"/>
<circle cx="432.5" cy="277.1" r="10.9" fill="url(#gSb)"/>
<circle cx="293.0" cy="279.0" r="10.9" fill="url(#gSb)"/>
<circle cx="381.1" cy="282.9" r="10.9" fill="url(#gSb)"/>
<circle cx="247.5" cy="331.3" r="17.6" fill="url(#gBa)"/>
<circle cx="335.5" cy="335.5" r="17.6" fill="url(#gBa)"/>
<circle cx="210.6" cy="352.3" r="10.9" fill="url(#gSb)"/>
<circle cx="298.6" cy="356.5" r="10.9" fill="url(#gSb)"/>
<circle cx="386.9" cy="361.2" r="10.9" fill="url(#gSb)"/>
<line x1="218.3" y1="375.2" x2="206.6" y2="373.2" stroke="#3f807c" stroke-width="4.2"/><line x1="218.3" y1="375.2" x2="206.6" y2="373.2" stroke="#8fd0cb" stroke-width="1.3"/><line x1="206.6" y1="373.2" x2="194.9" y2="371.2" stroke="#c98452" stroke-width="4.2"/><line x1="206.6" y1="373.2" x2="194.9" y2="371.2" stroke="#f1b98e" stroke-width="1.3"/>
<line x1="218.3" y1="375.2" x2="214.4" y2="363.8" stroke="#3f807c" stroke-width="4.2"/><line x1="218.3" y1="375.2" x2="214.4" y2="363.8" stroke="#8fd0cb" stroke-width="1.3"/><line x1="214.4" y1="363.8" x2="210.6" y2="352.3" stroke="#c98452" stroke-width="4.2"/><line x1="214.4" y1="363.8" x2="210.6" y2="352.3" stroke="#f1b98e" stroke-width="1.3"/>
<line x1="306.4" y1="379.4" x2="294.7" y2="377.5" stroke="#3f807c" stroke-width="4.2"/><line x1="306.4" y1="379.4" x2="294.7" y2="377.5" stroke="#8fd0cb" stroke-width="1.3"/><line x1="294.7" y1="377.5" x2="283.0" y2="375.6" stroke="#c98452" stroke-width="4.2"/><line x1="294.7" y1="377.5" x2="283.0" y2="375.6" stroke="#f1b98e" stroke-width="1.3"/>
<line x1="306.4" y1="379.4" x2="302.5" y2="367.9" stroke="#3f807c" stroke-width="4.2"/><line x1="306.4" y1="379.4" x2="302.5" y2="367.9" stroke="#8fd0cb" stroke-width="1.3"/><line x1="302.5" y1="367.9" x2="298.6" y2="356.5" stroke="#c98452" stroke-width="4.2"/><line x1="302.5" y1="367.9" x2="298.6" y2="356.5" stroke="#f1b98e" stroke-width="1.3"/>
<line x1="166.2" y1="382.7" x2="180.6" y2="376.9" stroke="#3f807c" stroke-width="4.2"/><line x1="166.2" y1="382.7" x2="180.6" y2="376.9" stroke="#8fd0cb" stroke-width="1.3"/><line x1="180.6" y1="376.9" x2="194.9" y2="371.2" stroke="#c98452" stroke-width="4.2"/><line x1="180.6" y1="376.9" x2="194.9" y2="371.2" stroke="#f1b98e" stroke-width="1.3"/>
<line x1="166.2" y1="382.7" x2="188.4" y2="367.5" stroke="#3f807c" stroke-width="4.2"/><line x1="166.2" y1="382.7" x2="188.4" y2="367.5" stroke="#8fd0cb" stroke-width="1.3"/><line x1="188.4" y1="367.5" x2="210.6" y2="352.3" stroke="#c98452" stroke-width="4.2"/><line x1="188.4" y1="367.5" x2="210.6" y2="352.3" stroke="#f1b98e" stroke-width="1.3"/>
<circle cx="194.9" cy="371.2" r="10.9" fill="url(#gSb)"/>
<line x1="394.6" y1="384.1" x2="383.0" y2="382.0" stroke="#3f807c" stroke-width="4.2"/><line x1="394.6" y1="384.1" x2="383.0" y2="382.0" stroke="#8fd0cb" stroke-width="1.3"/><line x1="383.0" y1="382.0" x2="371.3" y2="379.9" stroke="#c98452" stroke-width="4.2"/><line x1="383.0" y1="382.0" x2="371.3" y2="379.9" stroke="#f1b98e" stroke-width="1.3"/>
<line x1="394.6" y1="384.1" x2="390.8" y2="372.6" stroke="#3f807c" stroke-width="4.2"/><line x1="394.6" y1="384.1" x2="390.8" y2="372.6" stroke="#8fd0cb" stroke-width="1.3"/><line x1="390.8" y1="372.6" x2="386.9" y2="361.2" stroke="#c98452" stroke-width="4.2"/><line x1="390.8" y1="372.6" x2="386.9" y2="361.2" stroke="#f1b98e" stroke-width="1.3"/>
<line x1="253.8" y1="386.9" x2="268.4" y2="381.2" stroke="#3f807c" stroke-width="4.2"/><line x1="253.8" y1="386.9" x2="268.4" y2="381.2" stroke="#8fd0cb" stroke-width="1.3"/><line x1="268.4" y1="381.2" x2="283.0" y2="375.6" stroke="#c98452" stroke-width="4.2"/><line x1="268.4" y1="381.2" x2="283.0" y2="375.6" stroke="#f1b98e" stroke-width="1.3"/>
<line x1="253.8" y1="386.9" x2="276.2" y2="371.7" stroke="#3f807c" stroke-width="4.2"/><line x1="253.8" y1="386.9" x2="276.2" y2="371.7" stroke="#8fd0cb" stroke-width="1.3"/><line x1="276.2" y1="371.7" x2="298.6" y2="356.5" stroke="#c98452" stroke-width="4.2"/><line x1="276.2" y1="371.7" x2="298.6" y2="356.5" stroke="#f1b98e" stroke-width="1.3"/>
<circle cx="218.3" cy="375.2" r="10.6" fill="url(#gMn)"/>
<circle cx="283.0" cy="375.6" r="10.9" fill="url(#gSb)"/>
<line x1="342.1" y1="391.1" x2="356.7" y2="385.5" stroke="#3f807c" stroke-width="4.2"/><line x1="342.1" y1="391.1" x2="356.7" y2="385.5" stroke="#8fd0cb" stroke-width="1.3"/><line x1="356.7" y1="385.5" x2="371.3" y2="379.9" stroke="#c98452" stroke-width="4.2"/><line x1="356.7" y1="385.5" x2="371.3" y2="379.9" stroke="#f1b98e" stroke-width="1.3"/>
<line x1="342.1" y1="391.1" x2="364.5" y2="376.1" stroke="#3f807c" stroke-width="4.2"/><line x1="342.1" y1="391.1" x2="364.5" y2="376.1" stroke="#8fd0cb" stroke-width="1.3"/><line x1="364.5" y1="376.1" x2="386.9" y2="361.2" stroke="#c98452" stroke-width="4.2"/><line x1="364.5" y1="376.1" x2="386.9" y2="361.2" stroke="#f1b98e" stroke-width="1.3"/>
<circle cx="306.4" cy="379.4" r="10.6" fill="url(#gMn)"/>
<circle cx="371.3" cy="379.9" r="10.9" fill="url(#gSb)"/>
<line x1="202.4" y1="393.9" x2="198.7" y2="382.5" stroke="#3f807c" stroke-width="4.2"/><line x1="202.4" y1="393.9" x2="198.7" y2="382.5" stroke="#8fd0cb" stroke-width="1.3"/><line x1="198.7" y1="382.5" x2="194.9" y2="371.2" stroke="#c98452" stroke-width="4.2"/><line x1="198.7" y1="382.5" x2="194.9" y2="371.2" stroke="#f1b98e" stroke-width="1.3"/>
<line x1="202.4" y1="393.9" x2="206.5" y2="373.1" stroke="#3f807c" stroke-width="4.2"/><line x1="202.4" y1="393.9" x2="206.5" y2="373.1" stroke="#8fd0cb" stroke-width="1.3"/><line x1="206.5" y1="373.1" x2="210.6" y2="352.3" stroke="#c98452" stroke-width="4.2"/><line x1="206.5" y1="373.1" x2="210.6" y2="352.3" stroke="#f1b98e" stroke-width="1.3"/>
<circle cx="166.2" cy="382.7" r="10.6" fill="url(#gMn)"/>
<line x1="430.8" y1="395.7" x2="408.9" y2="378.4" stroke="#3f807c" stroke-width="4.2"/><line x1="430.8" y1="395.7" x2="408.9" y2="378.4" stroke="#8fd0cb" stroke-width="1.3"/><line x1="408.9" y1="378.4" x2="386.9" y2="361.2" stroke="#c98452" stroke-width="4.2"/><line x1="408.9" y1="378.4" x2="386.9" y2="361.2" stroke="#f1b98e" stroke-width="1.3"/>
<circle cx="394.6" cy="384.1" r="10.6" fill="url(#gMn)"/>
<line x1="290.7" y1="398.1" x2="286.9" y2="386.9" stroke="#3f807c" stroke-width="4.2"/><line x1="290.7" y1="398.1" x2="286.9" y2="386.9" stroke="#8fd0cb" stroke-width="1.3"/><line x1="286.9" y1="386.9" x2="283.0" y2="375.6" stroke="#c98452" stroke-width="4.2"/><line x1="286.9" y1="386.9" x2="283.0" y2="375.6" stroke="#f1b98e" stroke-width="1.3"/>
<line x1="290.7" y1="398.1" x2="294.6" y2="377.3" stroke="#3f807c" stroke-width="4.2"/><line x1="290.7" y1="398.1" x2="294.6" y2="377.3" stroke="#8fd0cb" stroke-width="1.3"/><line x1="294.6" y1="377.3" x2="298.6" y2="356.5" stroke="#c98452" stroke-width="4.2"/><line x1="294.6" y1="377.3" x2="298.6" y2="356.5" stroke="#f1b98e" stroke-width="1.3"/>
<circle cx="253.8" cy="386.9" r="10.6" fill="url(#gMn)"/>
<line x1="150.6" y1="401.3" x2="172.8" y2="386.2" stroke="#3f807c" stroke-width="4.2"/><line x1="150.6" y1="401.3" x2="172.8" y2="386.2" stroke="#8fd0cb" stroke-width="1.3"/><line x1="172.8" y1="386.2" x2="194.9" y2="371.2" stroke="#c98452" stroke-width="4.2"/><line x1="172.8" y1="386.2" x2="194.9" y2="371.2" stroke="#f1b98e" stroke-width="1.3"/>
<line x1="378.8" y1="402.7" x2="375.1" y2="391.3" stroke="#3f807c" stroke-width="4.2"/><line x1="378.8" y1="402.7" x2="375.1" y2="391.3" stroke="#8fd0cb" stroke-width="1.3"/><line x1="375.1" y1="391.3" x2="371.3" y2="379.9" stroke="#c98452" stroke-width="4.2"/><line x1="375.1" y1="391.3" x2="371.3" y2="379.9" stroke="#f1b98e" stroke-width="1.3"/>
<line x1="378.8" y1="402.7" x2="382.9" y2="381.9" stroke="#3f807c" stroke-width="4.2"/><line x1="378.8" y1="402.7" x2="382.9" y2="381.9" stroke="#8fd0cb" stroke-width="1.3"/><line x1="382.9" y1="381.9" x2="386.9" y2="361.2" stroke="#c98452" stroke-width="4.2"/><line x1="382.9" y1="381.9" x2="386.9" y2="361.2" stroke="#f1b98e" stroke-width="1.3"/>
<circle cx="342.1" cy="391.1" r="10.6" fill="url(#gMn)"/>
<line x1="238.6" y1="405.5" x2="260.8" y2="390.6" stroke="#3f807c" stroke-width="4.2"/><line x1="238.6" y1="405.5" x2="260.8" y2="390.6" stroke="#8fd0cb" stroke-width="1.3"/><line x1="260.8" y1="390.6" x2="283.0" y2="375.6" stroke="#c98452" stroke-width="4.2"/><line x1="260.8" y1="390.6" x2="283.0" y2="375.6" stroke="#f1b98e" stroke-width="1.3"/>
<line x1="238.6" y1="405.5" x2="216.8" y2="388.4" stroke="#3f807c" stroke-width="4.2"/><line x1="238.6" y1="405.5" x2="216.8" y2="388.4" stroke="#8fd0cb" stroke-width="1.3"/><line x1="216.8" y1="388.4" x2="194.9" y2="371.2" stroke="#c98452" stroke-width="4.2"/><line x1="216.8" y1="388.4" x2="194.9" y2="371.2" stroke="#f1b98e" stroke-width="1.3"/>
<circle cx="202.4" cy="393.9" r="10.6" fill="url(#gMn)"/>
<circle cx="430.8" cy="395.7" r="10.6" fill="url(#gMn)"/>
<line x1="326.9" y1="409.8" x2="349.1" y2="394.9" stroke="#3f807c" stroke-width="4.2"/><line x1="326.9" y1="409.8" x2="349.1" y2="394.9" stroke="#8fd0cb" stroke-width="1.3"/><line x1="349.1" y1="394.9" x2="371.3" y2="379.9" stroke="#c98452" stroke-width="4.2"/><line x1="349.1" y1="394.9" x2="371.3" y2="379.9" stroke="#f1b98e" stroke-width="1.3"/>
<line x1="326.9" y1="409.8" x2="304.9" y2="392.7" stroke="#3f807c" stroke-width="4.2"/><line x1="326.9" y1="409.8" x2="304.9" y2="392.7" stroke="#8fd0cb" stroke-width="1.3"/><line x1="304.9" y1="392.7" x2="283.0" y2="375.6" stroke="#c98452" stroke-width="4.2"/><line x1="304.9" y1="392.7" x2="283.0" y2="375.6" stroke="#f1b98e" stroke-width="1.3"/>
<circle cx="290.7" cy="398.1" r="10.6" fill="url(#gMn)"/>
<line x1="186.8" y1="413.0" x2="190.9" y2="392.1" stroke="#3f807c" stroke-width="4.2"/><line x1="186.8" y1="413.0" x2="190.9" y2="392.1" stroke="#8fd0cb" stroke-width="1.3"/><line x1="190.9" y1="392.1" x2="194.9" y2="371.2" stroke="#c98452" stroke-width="4.2"/><line x1="190.9" y1="392.1" x2="194.9" y2="371.2" stroke="#f1b98e" stroke-width="1.3"/>
<circle cx="150.6" cy="401.3" r="10.6" fill="url(#gMn)"/>
<line x1="415.0" y1="414.4" x2="393.1" y2="397.1" stroke="#3f807c" stroke-width="4.2"/><line x1="415.0" y1="414.4" x2="393.1" y2="397.1" stroke="#8fd0cb" stroke-width="1.3"/><line x1="393.1" y1="397.1" x2="371.3" y2="379.9" stroke="#c98452" stroke-width="4.2"/><line x1="393.1" y1="397.1" x2="371.3" y2="379.9" stroke="#f1b98e" stroke-width="1.3"/>
<circle cx="378.8" cy="402.7" r="10.6" fill="url(#gMn)"/>
<line x1="274.8" y1="416.8" x2="278.9" y2="396.2" stroke="#3f807c" stroke-width="4.2"/><line x1="274.8" y1="416.8" x2="278.9" y2="396.2" stroke="#8fd0cb" stroke-width="1.3"/><line x1="278.9" y1="396.2" x2="283.0" y2="375.6" stroke="#c98452" stroke-width="4.2"/><line x1="278.9" y1="396.2" x2="283.0" y2="375.6" stroke="#f1b98e" stroke-width="1.3"/>
<circle cx="238.6" cy="405.5" r="10.6" fill="url(#gMn)"/>
<line x1="363.1" y1="421.4" x2="367.2" y2="400.6" stroke="#3f807c" stroke-width="4.2"/><line x1="363.1" y1="421.4" x2="367.2" y2="400.6" stroke="#8fd0cb" stroke-width="1.3"/><line x1="367.2" y1="400.6" x2="371.3" y2="379.9" stroke="#c98452" stroke-width="4.2"/><line x1="367.2" y1="400.6" x2="371.3" y2="379.9" stroke="#f1b98e" stroke-width="1.3"/>
<circle cx="326.9" cy="409.8" r="10.6" fill="url(#gMn)"/>
<circle cx="186.8" cy="413.0" r="10.6" fill="url(#gMn)"/>
<circle cx="415.0" cy="414.4" r="10.6" fill="url(#gMn)"/>
<circle cx="274.8" cy="416.8" r="10.6" fill="url(#gMn)"/>
<line x1="202.4" y1="393.9" x2="224.2" y2="411.4" stroke="#3f807c" stroke-width="4.2"/><line x1="202.4" y1="393.9" x2="224.2" y2="411.4" stroke="#8fd0cb" stroke-width="1.3"/><line x1="224.2" y1="411.4" x2="246.1" y2="428.9" stroke="#c98452" stroke-width="4.2"/><line x1="224.2" y1="411.4" x2="246.1" y2="428.9" stroke="#f1b98e" stroke-width="1.3"/>
<line x1="253.8" y1="386.9" x2="249.9" y2="407.9" stroke="#3f807c" stroke-width="4.2"/><line x1="253.8" y1="386.9" x2="249.9" y2="407.9" stroke="#8fd0cb" stroke-width="1.3"/><line x1="249.9" y1="407.9" x2="246.1" y2="428.9" stroke="#c98452" stroke-width="4.2"/><line x1="249.9" y1="407.9" x2="246.1" y2="428.9" stroke="#f1b98e" stroke-width="1.3"/>
<line x1="238.6" y1="405.5" x2="242.3" y2="417.2" stroke="#3f807c" stroke-width="4.2"/><line x1="238.6" y1="405.5" x2="242.3" y2="417.2" stroke="#8fd0cb" stroke-width="1.3"/><line x1="242.3" y1="417.2" x2="246.1" y2="428.9" stroke="#c98452" stroke-width="4.2"/><line x1="242.3" y1="417.2" x2="246.1" y2="428.9" stroke="#f1b98e" stroke-width="1.3"/>
<line x1="290.7" y1="398.1" x2="268.4" y2="413.5" stroke="#3f807c" stroke-width="4.2"/><line x1="290.7" y1="398.1" x2="268.4" y2="413.5" stroke="#8fd0cb" stroke-width="1.3"/><line x1="268.4" y1="413.5" x2="246.1" y2="428.9" stroke="#c98452" stroke-width="4.2"/><line x1="268.4" y1="413.5" x2="246.1" y2="428.9" stroke="#f1b98e" stroke-width="1.3"/>
<line x1="274.8" y1="416.8" x2="260.4" y2="422.9" stroke="#3f807c" stroke-width="4.2"/><line x1="274.8" y1="416.8" x2="260.4" y2="422.9" stroke="#8fd0cb" stroke-width="1.3"/><line x1="260.4" y1="422.9" x2="246.1" y2="428.9" stroke="#c98452" stroke-width="4.2"/><line x1="260.4" y1="422.9" x2="246.1" y2="428.9" stroke="#f1b98e" stroke-width="1.3"/>
<line x1="342.1" y1="391.1" x2="338.0" y2="412.1" stroke="#3f807c" stroke-width="4.2"/><line x1="342.1" y1="391.1" x2="338.0" y2="412.1" stroke="#8fd0cb" stroke-width="1.3"/><line x1="338.0" y1="412.1" x2="333.9" y2="433.1" stroke="#c98452" stroke-width="4.2"/><line x1="338.0" y1="412.1" x2="333.9" y2="433.1" stroke="#f1b98e" stroke-width="1.3"/>
<line x1="326.9" y1="409.8" x2="330.4" y2="421.5" stroke="#3f807c" stroke-width="4.2"/><line x1="326.9" y1="409.8" x2="330.4" y2="421.5" stroke="#8fd0cb" stroke-width="1.3"/><line x1="330.4" y1="421.5" x2="333.9" y2="433.1" stroke="#c98452" stroke-width="4.2"/><line x1="330.4" y1="421.5" x2="333.9" y2="433.1" stroke="#f1b98e" stroke-width="1.3"/>
<line x1="378.8" y1="402.7" x2="356.4" y2="417.9" stroke="#3f807c" stroke-width="4.2"/><line x1="378.8" y1="402.7" x2="356.4" y2="417.9" stroke="#8fd0cb" stroke-width="1.3"/><line x1="356.4" y1="417.9" x2="333.9" y2="433.1" stroke="#c98452" stroke-width="4.2"/><line x1="356.4" y1="417.9" x2="333.9" y2="433.1" stroke="#f1b98e" stroke-width="1.3"/>
<line x1="363.1" y1="421.4" x2="348.5" y2="427.2" stroke="#3f807c" stroke-width="4.2"/><line x1="363.1" y1="421.4" x2="348.5" y2="427.2" stroke="#8fd0cb" stroke-width="1.3"/><line x1="348.5" y1="427.2" x2="333.9" y2="433.1" stroke="#c98452" stroke-width="4.2"/><line x1="348.5" y1="427.2" x2="333.9" y2="433.1" stroke="#f1b98e" stroke-width="1.3"/>
<circle cx="363.1" cy="421.4" r="10.6" fill="url(#gMn)"/>
<circle cx="246.1" cy="428.9" r="10.9" fill="url(#gSb)"/>
<circle cx="333.9" cy="433.1" r="10.9" fill="url(#gSb)"/>
<circle cx="210.0" cy="449.1" r="17.6" fill="url(#gBa)"/>
<circle cx="297.8" cy="453.0" r="17.6" fill="url(#gBa)"/>
<circle cx="386.0" cy="457.7" r="17.6" fill="url(#gBa)"/>
<circle cx="193.8" cy="468.1" r="17.6" fill="url(#gBa)"/>
<circle cx="281.7" cy="472.6" r="17.6" fill="url(#gBa)"/>
<circle cx="370.3" cy="476.5" r="17.6" fill="url(#gBa)"/>
<line x1="217.3" y1="493.4" x2="235.8" y2="498.4" stroke="#c98452" stroke-width="4.2"/><line x1="217.3" y1="493.4" x2="235.8" y2="498.4" stroke="#f1b98e" stroke-width="1.3"/><line x1="235.8" y1="498.4" x2="254.3" y2="503.4" stroke="#c98452" stroke-width="4.2"/><line x1="235.8" y1="498.4" x2="254.3" y2="503.4" stroke="#f1b98e" stroke-width="1.3"/>
<line x1="254.3" y1="503.4" x2="279.7" y2="500.6" stroke="#c98452" stroke-width="4.2"/><line x1="254.3" y1="503.4" x2="279.7" y2="500.6" stroke="#f1b98e" stroke-width="1.3"/><line x1="279.7" y1="500.6" x2="305.1" y2="497.9" stroke="#c98452" stroke-width="4.2"/><line x1="279.7" y1="500.6" x2="305.1" y2="497.9" stroke="#f1b98e" stroke-width="1.3"/>
<circle cx="217.3" cy="493.4" r="10.9" fill="url(#gSb)"/>
<line x1="305.1" y1="497.9" x2="323.8" y2="502.9" stroke="#c98452" stroke-width="4.2"/><line x1="305.1" y1="497.9" x2="323.8" y2="502.9" stroke="#f1b98e" stroke-width="1.3"/><line x1="323.8" y1="502.9" x2="342.4" y2="507.8" stroke="#c98452" stroke-width="4.2"/><line x1="323.8" y1="502.9" x2="342.4" y2="507.8" stroke="#f1b98e" stroke-width="1.3"/>
<line x1="342.4" y1="507.8" x2="367.9" y2="504.9" stroke="#c98452" stroke-width="4.2"/><line x1="342.4" y1="507.8" x2="367.9" y2="504.9" stroke="#f1b98e" stroke-width="1.3"/><line x1="367.9" y1="504.9" x2="393.3" y2="502.0" stroke="#c98452" stroke-width="4.2"/><line x1="367.9" y1="504.9" x2="393.3" y2="502.0" stroke="#f1b98e" stroke-width="1.3"/>
<circle cx="305.1" cy="497.9" r="10.9" fill="url(#gSb)"/>
<circle cx="393.3" cy="502.0" r="10.9" fill="url(#gSb)"/>
<circle cx="254.3" cy="503.4" r="10.9" fill="url(#gSb)"/>
<circle cx="342.4" cy="507.8" r="10.9" fill="url(#gSb)"/>
<line x1="200.8" y1="512.5" x2="219.4" y2="517.7" stroke="#c98452" stroke-width="4.2"/><line x1="200.8" y1="512.5" x2="219.4" y2="517.7" stroke="#f1b98e" stroke-width="1.3"/><line x1="219.4" y1="517.7" x2="238.1" y2="522.9" stroke="#c98452" stroke-width="4.2"/><line x1="219.4" y1="517.7" x2="238.1" y2="522.9" stroke="#f1b98e" stroke-width="1.3"/>
<line x1="238.1" y1="522.9" x2="263.6" y2="519.9" stroke="#c98452" stroke-width="4.2"/><line x1="238.1" y1="522.9" x2="263.6" y2="519.9" stroke="#f1b98e" stroke-width="1.3"/><line x1="263.6" y1="519.9" x2="289.0" y2="516.9" stroke="#c98452" stroke-width="4.2"/><line x1="263.6" y1="519.9" x2="289.0" y2="516.9" stroke="#f1b98e" stroke-width="1.3"/>
<circle cx="200.8" cy="512.5" r="10.9" fill="url(#gSb)"/>
<line x1="289.0" y1="516.9" x2="307.5" y2="521.8" stroke="#c98452" stroke-width="4.2"/><line x1="289.0" y1="516.9" x2="307.5" y2="521.8" stroke="#f1b98e" stroke-width="1.3"/><line x1="307.5" y1="521.8" x2="326.0" y2="526.8" stroke="#c98452" stroke-width="4.2"/><line x1="307.5" y1="521.8" x2="326.0" y2="526.8" stroke="#f1b98e" stroke-width="1.3"/>
<line x1="326.0" y1="526.8" x2="351.7" y2="523.8" stroke="#c98452" stroke-width="4.2"/><line x1="326.0" y1="526.8" x2="351.7" y2="523.8" stroke="#f1b98e" stroke-width="1.3"/><line x1="351.7" y1="523.8" x2="377.4" y2="520.8" stroke="#c98452" stroke-width="4.2"/><line x1="351.7" y1="523.8" x2="377.4" y2="520.8" stroke="#f1b98e" stroke-width="1.3"/>
<circle cx="289.0" cy="516.9" r="10.9" fill="url(#gSb)"/>
<circle cx="377.4" cy="520.8" r="10.9" fill="url(#gSb)"/>
<circle cx="238.1" cy="522.9" r="10.9" fill="url(#gSb)"/>
<circle cx="326.0" cy="526.8" r="10.9" fill="url(#gSb)"/>
<circle cx="480.0" cy="418.4" r="17.5" fill="url(#gBa)"/>
<circle cx="479.8" cy="467.3" r="11.0" fill="url(#gMn)"/>
<circle cx="479.2" cy="516.3" r="11.2" fill="url(#gSb)"/>
<line x1="758.9" y1="129.9" x2="793.0" y2="159.6" stroke="#c98452" stroke-width="5.2"/>
<line x1="758.9" y1="129.9" x2="793.0" y2="159.6" stroke="#f1b98e" stroke-width="1.6"/>
<line x1="793.0" y1="159.6" x2="827.1" y2="189.2" stroke="#c98452" stroke-width="5.2"/>
<line x1="793.0" y1="159.6" x2="827.1" y2="189.2" stroke="#f1b98e" stroke-width="1.6"/>
<line x1="827.1" y1="189.2" x2="861.0" y2="159.6" stroke="#c98452" stroke-width="5.2"/>
<line x1="827.1" y1="189.2" x2="861.0" y2="159.6" stroke="#f1b98e" stroke-width="1.6"/>
<line x1="861.0" y1="159.6" x2="895.0" y2="129.9" stroke="#c98452" stroke-width="5.2"/>
<line x1="861.0" y1="159.6" x2="895.0" y2="129.9" stroke="#f1b98e" stroke-width="1.6"/>
<line x1="895.0" y1="129.9" x2="929.1" y2="159.6" stroke="#c98452" stroke-width="5.2"/>
<line x1="895.0" y1="129.9" x2="929.1" y2="159.6" stroke="#f1b98e" stroke-width="1.6"/>
<line x1="929.1" y1="159.6" x2="963.2" y2="189.2" stroke="#c98452" stroke-width="5.2"/>
<line x1="929.1" y1="159.6" x2="963.2" y2="189.2" stroke="#f1b98e" stroke-width="1.6"/>
<line x1="963.2" y1="189.2" x2="997.1" y2="159.6" stroke="#c98452" stroke-width="5.2"/>
<line x1="963.2" y1="189.2" x2="997.1" y2="159.6" stroke="#f1b98e" stroke-width="1.6"/>
<line x1="997.1" y1="159.6" x2="1031.1" y2="129.9" stroke="#c98452" stroke-width="5.2"/>
<line x1="997.1" y1="159.6" x2="1031.1" y2="129.9" stroke="#f1b98e" stroke-width="1.6"/>
<line x1="1031.1" y1="129.9" x2="1065.2" y2="159.6" stroke="#c98452" stroke-width="5.2"/>
<line x1="1031.1" y1="129.9" x2="1065.2" y2="159.6" stroke="#f1b98e" stroke-width="1.6"/>
<line x1="1065.2" y1="159.6" x2="1099.3" y2="189.2" stroke="#c98452" stroke-width="5.2"/>
<line x1="1065.2" y1="159.6" x2="1099.3" y2="189.2" stroke="#f1b98e" stroke-width="1.6"/>
<line x1="1099.3" y1="189.2" x2="1133.2" y2="159.6" stroke="#c98452" stroke-width="5.2"/>
<line x1="1099.3" y1="189.2" x2="1133.2" y2="159.6" stroke="#f1b98e" stroke-width="1.6"/>
<line x1="1133.2" y1="159.6" x2="1167.2" y2="129.9" stroke="#c98452" stroke-width="5.2"/>
<line x1="1133.2" y1="159.6" x2="1167.2" y2="129.9" stroke="#f1b98e" stroke-width="1.6"/>
<line x1="758.9" y1="267.0" x2="793.0" y2="296.6" stroke="#c98452" stroke-width="5.2"/>
<line x1="758.9" y1="267.0" x2="793.0" y2="296.6" stroke="#f1b98e" stroke-width="1.6"/>
<line x1="793.0" y1="296.6" x2="827.1" y2="326.3" stroke="#c98452" stroke-width="5.2"/>
<line x1="793.0" y1="296.6" x2="827.1" y2="326.3" stroke="#f1b98e" stroke-width="1.6"/>
<line x1="827.1" y1="326.3" x2="861.0" y2="296.6" stroke="#c98452" stroke-width="5.2"/>
<line x1="827.1" y1="326.3" x2="861.0" y2="296.6" stroke="#f1b98e" stroke-width="1.6"/>
<line x1="861.0" y1="296.6" x2="895.0" y2="267.0" stroke="#c98452" stroke-width="5.2"/>
<line x1="861.0" y1="296.6" x2="895.0" y2="267.0" stroke="#f1b98e" stroke-width="1.6"/>
<line x1="895.0" y1="267.0" x2="929.1" y2="296.6" stroke="#c98452" stroke-width="5.2"/>
<line x1="895.0" y1="267.0" x2="929.1" y2="296.6" stroke="#f1b98e" stroke-width="1.6"/>
<line x1="929.1" y1="296.6" x2="963.2" y2="326.3" stroke="#c98452" stroke-width="5.2"/>
<line x1="929.1" y1="296.6" x2="963.2" y2="326.3" stroke="#f1b98e" stroke-width="1.6"/>
<line x1="963.2" y1="326.3" x2="997.1" y2="296.6" stroke="#c98452" stroke-width="5.2"/>
<line x1="963.2" y1="326.3" x2="997.1" y2="296.6" stroke="#f1b98e" stroke-width="1.6"/>
<line x1="997.1" y1="296.6" x2="1031.1" y2="267.0" stroke="#c98452" stroke-width="5.2"/>
<line x1="997.1" y1="296.6" x2="1031.1" y2="267.0" stroke="#f1b98e" stroke-width="1.6"/>
<line x1="1031.1" y1="267.0" x2="1065.2" y2="296.6" stroke="#c98452" stroke-width="5.2"/>
<line x1="1031.1" y1="267.0" x2="1065.2" y2="296.6" stroke="#f1b98e" stroke-width="1.6"/>
<line x1="1065.2" y1="296.6" x2="1099.3" y2="326.3" stroke="#c98452" stroke-width="5.2"/>
<line x1="1065.2" y1="296.6" x2="1099.3" y2="326.3" stroke="#f1b98e" stroke-width="1.6"/>
<line x1="1099.3" y1="326.3" x2="1133.2" y2="296.6" stroke="#c98452" stroke-width="5.2"/>
<line x1="1099.3" y1="326.3" x2="1133.2" y2="296.6" stroke="#f1b98e" stroke-width="1.6"/>
<line x1="1133.2" y1="296.6" x2="1167.2" y2="267.0" stroke="#c98452" stroke-width="5.2"/>
<line x1="1133.2" y1="296.6" x2="1167.2" y2="267.0" stroke="#f1b98e" stroke-width="1.6"/>
<line x1="758.9" y1="404.1" x2="793.0" y2="433.8" stroke="#c98452" stroke-width="5.2"/>
<line x1="758.9" y1="404.1" x2="793.0" y2="433.8" stroke="#f1b98e" stroke-width="1.6"/>
<line x1="793.0" y1="433.8" x2="827.1" y2="463.4" stroke="#c98452" stroke-width="5.2"/>
<line x1="793.0" y1="433.8" x2="827.1" y2="463.4" stroke="#f1b98e" stroke-width="1.6"/>
<line x1="827.1" y1="463.4" x2="861.0" y2="433.8" stroke="#c98452" stroke-width="5.2"/>
<line x1="827.1" y1="463.4" x2="861.0" y2="433.8" stroke="#f1b98e" stroke-width="1.6"/>
<line x1="861.0" y1="433.8" x2="895.0" y2="404.1" stroke="#c98452" stroke-width="5.2"/>
<line x1="861.0" y1="433.8" x2="895.0" y2="404.1" stroke="#f1b98e" stroke-width="1.6"/>
<line x1="895.0" y1="404.1" x2="929.1" y2="433.8" stroke="#c98452" stroke-width="5.2"/>
<line x1="895.0" y1="404.1" x2="929.1" y2="433.8" stroke="#f1b98e" stroke-width="1.6"/>
<line x1="929.1" y1="433.8" x2="963.2" y2="463.4" stroke="#c98452" stroke-width="5.2"/>
<line x1="929.1" y1="433.8" x2="963.2" y2="463.4" stroke="#f1b98e" stroke-width="1.6"/>
<line x1="963.2" y1="463.4" x2="997.1" y2="433.8" stroke="#c98452" stroke-width="5.2"/>
<line x1="963.2" y1="463.4" x2="997.1" y2="433.8" stroke="#f1b98e" stroke-width="1.6"/>
<line x1="997.1" y1="433.8" x2="1031.1" y2="404.1" stroke="#c98452" stroke-width="5.2"/>
<line x1="997.1" y1="433.8" x2="1031.1" y2="404.1" stroke="#f1b98e" stroke-width="1.6"/>
<line x1="1031.1" y1="404.1" x2="1065.2" y2="433.8" stroke="#c98452" stroke-width="5.2"/>
<line x1="1031.1" y1="404.1" x2="1065.2" y2="433.8" stroke="#f1b98e" stroke-width="1.6"/>
<line x1="1065.2" y1="433.8" x2="1099.3" y2="463.4" stroke="#c98452" stroke-width="5.2"/>
<line x1="1065.2" y1="433.8" x2="1099.3" y2="463.4" stroke="#f1b98e" stroke-width="1.6"/>
<line x1="1099.3" y1="463.4" x2="1133.2" y2="433.8" stroke="#c98452" stroke-width="5.2"/>
<line x1="1099.3" y1="463.4" x2="1133.2" y2="433.8" stroke="#f1b98e" stroke-width="1.6"/>
<line x1="1133.2" y1="433.8" x2="1167.2" y2="404.1" stroke="#c98452" stroke-width="5.2"/>
<line x1="1133.2" y1="433.8" x2="1167.2" y2="404.1" stroke="#f1b98e" stroke-width="1.6"/>
<circle cx="758.9" cy="129.9" r="16.8" fill="url(#gSb)"/>
<circle cx="895.0" cy="129.9" r="16.8" fill="url(#gSb)"/>
<circle cx="1031.1" cy="129.9" r="16.8" fill="url(#gSb)"/>
<circle cx="1167.2" cy="129.9" r="16.8" fill="url(#gSb)"/>
<circle cx="827.1" cy="189.2" r="16.8" fill="url(#gSb)"/>
<circle cx="963.2" cy="189.2" r="16.8" fill="url(#gSb)"/>
<circle cx="1099.3" cy="189.2" r="16.8" fill="url(#gSb)"/>
<circle cx="827.1" cy="121.5" r="26.8" fill="url(#gBa)"/>
<circle cx="963.2" cy="121.5" r="26.8" fill="url(#gBa)"/>
<circle cx="1099.3" cy="121.5" r="26.8" fill="url(#gBa)"/>
<circle cx="758.9" cy="267.0" r="16.8" fill="url(#gSb)"/>
<circle cx="895.0" cy="267.0" r="16.8" fill="url(#gSb)"/>
<circle cx="1031.1" cy="267.0" r="16.8" fill="url(#gSb)"/>
<circle cx="1167.2" cy="267.0" r="16.8" fill="url(#gSb)"/>
<circle cx="827.1" cy="326.3" r="16.8" fill="url(#gSb)"/>
<circle cx="963.2" cy="326.3" r="16.8" fill="url(#gSb)"/>
<circle cx="1099.3" cy="326.3" r="16.8" fill="url(#gSb)"/>
<circle cx="827.1" cy="258.6" r="26.8" fill="url(#gBa)"/>
<circle cx="963.2" cy="258.6" r="26.8" fill="url(#gBa)"/>
<circle cx="1099.3" cy="258.6" r="26.8" fill="url(#gBa)"/>
<circle cx="758.9" cy="404.1" r="16.8" fill="url(#gSb)"/>
<circle cx="895.0" cy="404.1" r="16.8" fill="url(#gSb)"/>
<circle cx="1031.1" cy="404.1" r="16.8" fill="url(#gSb)"/>
<circle cx="1167.2" cy="404.1" r="16.8" fill="url(#gSb)"/>
<circle cx="827.1" cy="463.4" r="16.8" fill="url(#gSb)"/>
<circle cx="963.2" cy="463.4" r="16.8" fill="url(#gSb)"/>
<circle cx="1099.3" cy="463.4" r="16.8" fill="url(#gSb)"/>
<circle cx="827.1" cy="395.7" r="26.8" fill="url(#gBa)"/>
<circle cx="963.2" cy="395.7" r="26.8" fill="url(#gBa)"/>
<circle cx="1099.3" cy="395.7" r="26.8" fill="url(#gBa)"/>
<path d="M827.1,326.3 H963.2 V463.4 H827.1 Z" fill="none" stroke="#333" stroke-width="1.3" stroke-dasharray="5.5 4.5"/>
<line x1="107.5" y1="944.7" x2="395.5" y2="944.7" stroke="#9a9a9a" stroke-width="1.7"/>
<line x1="251.5" y1="592.7" x2="251.5" y2="1008.6" stroke="#9a9a9a" stroke-width="1.7"/>
<line x1="109.5" y1="784.7" x2="395.5" y2="784.7" stroke="#8c8c8c" stroke-width="1.9" stroke-dasharray="7.5 7"/>
<line x1="109.5" y1="624.7" x2="395.5" y2="624.7" stroke="#8c8c8c" stroke-width="1.9" stroke-dasharray="7.5 7"/>
<line x1="123.5" y1="1008.6" x2="123.5" y2="999.1" stroke="#000" stroke-width="1.5"/>
<line x1="155.5" y1="1008.6" x2="155.5" y2="1002.9" stroke="#000" stroke-width="1.5"/>
<line x1="187.5" y1="1008.6" x2="187.5" y2="999.1" stroke="#000" stroke-width="1.5"/>
<line x1="219.5" y1="1008.6" x2="219.5" y2="1002.9" stroke="#000" stroke-width="1.5"/>
<line x1="283.5" y1="1008.6" x2="283.5" y2="1002.9" stroke="#000" stroke-width="1.5"/>
<line x1="315.5" y1="1008.6" x2="315.5" y2="999.1" stroke="#000" stroke-width="1.5"/>
<line x1="347.5" y1="1008.6" x2="347.5" y2="1002.9" stroke="#000" stroke-width="1.5"/>
<line x1="379.5" y1="1008.6" x2="379.5" y2="999.1" stroke="#000" stroke-width="1.5"/>
<line x1="107.5" y1="944.7" x2="115.0" y2="944.7" stroke="#000" stroke-width="1.5"/>
<line x1="107.5" y1="784.7" x2="115.0" y2="784.7" stroke="#000" stroke-width="1.5"/>
<line x1="107.5" y1="624.7" x2="115.0" y2="624.7" stroke="#000" stroke-width="1.5"/>
<rect x="107.5" y="592.7" width="288.0" height="415.9" fill="none" stroke="#000" stroke-width="1.9"/>
<text x="135.84" y="1050.30" font-size="34" textLength="26.50" lengthAdjust="spacingAndGlyphs">−</text>
<text x="166.37" y="1047.30" font-size="34" textLength="47.99" lengthAdjust="spacingAndGlyphs">0.4</text>
<text x="241.50" y="1047.30" font-size="34" textLength="18.70" lengthAdjust="spacingAndGlyphs">0</text>
<text x="291.88" y="1047.30" font-size="34" textLength="47.68" lengthAdjust="spacingAndGlyphs">0.4</text>
<text x="189.25" y="1096.90" font-size="34" textLength="17.36" lengthAdjust="spacingAndGlyphs"><tspan style="font-style:italic">k</tspan></text>
<text x="209.65" y="1105.10" font-size="24" textLength="12.25" lengthAdjust="spacingAndGlyphs"><tspan style="font-style:italic">x</tspan></text>
<text x="232.60" y="1096.90" font-size="37" textLength="12.33" lengthAdjust="spacingAndGlyphs">(</text>
<text x="247.00" y="1096.90" font-size="34" textLength="17.80" lengthAdjust="spacingAndGlyphs"><tspan style="font-style:italic">π</tspan></text>
<text x="268.85" y="1104.90" font-size="45" textLength="14.39" lengthAdjust="spacingAndGlyphs">/</text>
<text x="285.87" y="1096.90" font-size="34" textLength="15.87" lengthAdjust="spacingAndGlyphs"><tspan style="font-style:italic">b</tspan></text>
<text x="302.90" y="1096.90" font-size="37" textLength="11.10" lengthAdjust="spacingAndGlyphs">)</text>
<line x1="410.2" y1="944.7" x2="698.2" y2="944.7" stroke="#9a9a9a" stroke-width="1.7"/>
<line x1="554.2" y1="592.7" x2="554.2" y2="1008.6" stroke="#9a9a9a" stroke-width="1.7"/>
<line x1="412.2" y1="784.7" x2="698.2" y2="784.7" stroke="#8c8c8c" stroke-width="1.9" stroke-dasharray="7.5 7"/>
<line x1="412.2" y1="624.7" x2="698.2" y2="624.7" stroke="#8c8c8c" stroke-width="1.9" stroke-dasharray="7.5 7"/>
<line x1="426.2" y1="1008.6" x2="426.2" y2="999.1" stroke="#000" stroke-width="1.5"/>
<line x1="458.2" y1="1008.6" x2="458.2" y2="1002.9" stroke="#000" stroke-width="1.5"/>
<line x1="490.2" y1="1008.6" x2="490.2" y2="999.1" stroke="#000" stroke-width="1.5"/>
<line x1="522.2" y1="1008.6" x2="522.2" y2="1002.9" stroke="#000" stroke-width="1.5"/>
<line x1="586.2" y1="1008.6" x2="586.2" y2="1002.9" stroke="#000" stroke-width="1.5"/>
<line x1="618.2" y1="1008.6" x2="618.2" y2="999.1" stroke="#000" stroke-width="1.5"/>
<line x1="650.2" y1="1008.6" x2="650.2" y2="1002.9" stroke="#000" stroke-width="1.5"/>
<line x1="682.2" y1="1008.6" x2="682.2" y2="999.1" stroke="#000" stroke-width="1.5"/>
<line x1="410.2" y1="944.7" x2="417.7" y2="944.7" stroke="#000" stroke-width="1.5"/>
<line x1="410.2" y1="784.7" x2="417.7" y2="784.7" stroke="#000" stroke-width="1.5"/>
<line x1="410.2" y1="624.7" x2="417.7" y2="624.7" stroke="#000" stroke-width="1.5"/>
<rect x="410.2" y="592.7" width="288.0" height="415.9" fill="none" stroke="#000" stroke-width="1.9"/>
<text x="438.54" y="1050.30" font-size="34" textLength="26.50" lengthAdjust="spacingAndGlyphs">−</text>
<text x="469.07" y="1047.30" font-size="34" textLength="47.99" lengthAdjust="spacingAndGlyphs">0.4</text>
<text x="544.20" y="1047.30" font-size="34" textLength="18.70" lengthAdjust="spacingAndGlyphs">0</text>
<text x="594.58" y="1047.30" font-size="34" textLength="47.68" lengthAdjust="spacingAndGlyphs">0.4</text>
<text x="491.95" y="1096.90" font-size="34" textLength="17.36" lengthAdjust="spacingAndGlyphs"><tspan style="font-style:italic">k</tspan></text>
<text x="512.35" y="1105.10" font-size="24" textLength="12.25" lengthAdjust="spacingAndGlyphs"><tspan style="font-style:italic">x</tspan></text>
<text x="535.30" y="1096.90" font-size="37" textLength="12.33" lengthAdjust="spacingAndGlyphs">(</text>
<text x="549.70" y="1096.90" font-size="34" textLength="17.80" lengthAdjust="spacingAndGlyphs"><tspan style="font-style:italic">π</tspan></text>
<text x="571.55" y="1104.90" font-size="45" textLength="14.39" lengthAdjust="spacingAndGlyphs">/</text>
<text x="588.57" y="1096.90" font-size="34" textLength="15.87" lengthAdjust="spacingAndGlyphs"><tspan style="font-style:italic">b</tspan></text>
<text x="605.60" y="1096.90" font-size="37" textLength="11.10" lengthAdjust="spacingAndGlyphs">)</text>
<line x1="713.0" y1="944.7" x2="1001.0" y2="944.7" stroke="#9a9a9a" stroke-width="1.7"/>
<line x1="857.0" y1="592.7" x2="857.0" y2="1008.6" stroke="#9a9a9a" stroke-width="1.7"/>
<line x1="715.0" y1="784.7" x2="1001.0" y2="784.7" stroke="#8c8c8c" stroke-width="1.9" stroke-dasharray="7.5 7"/>
<line x1="715.0" y1="624.7" x2="1001.0" y2="624.7" stroke="#8c8c8c" stroke-width="1.9" stroke-dasharray="7.5 7"/>
<line x1="729.0" y1="1008.6" x2="729.0" y2="999.1" stroke="#000" stroke-width="1.5"/>
<line x1="761.0" y1="1008.6" x2="761.0" y2="1002.9" stroke="#000" stroke-width="1.5"/>
<line x1="793.0" y1="1008.6" x2="793.0" y2="999.1" stroke="#000" stroke-width="1.5"/>
<line x1="825.0" y1="1008.6" x2="825.0" y2="1002.9" stroke="#000" stroke-width="1.5"/>
<line x1="889.0" y1="1008.6" x2="889.0" y2="1002.9" stroke="#000" stroke-width="1.5"/>
<line x1="921.0" y1="1008.6" x2="921.0" y2="999.1" stroke="#000" stroke-width="1.5"/>
<line x1="953.0" y1="1008.6" x2="953.0" y2="1002.9" stroke="#000" stroke-width="1.5"/>
<line x1="985.0" y1="1008.6" x2="985.0" y2="999.1" stroke="#000" stroke-width="1.5"/>
<line x1="713.0" y1="944.7" x2="720.5" y2="944.7" stroke="#000" stroke-width="1.5"/>
<line x1="713.0" y1="784.7" x2="720.5" y2="784.7" stroke="#000" stroke-width="1.5"/>
<line x1="713.0" y1="624.7" x2="720.5" y2="624.7" stroke="#000" stroke-width="1.5"/>
<rect x="713.0" y="592.7" width="288.0" height="415.9" fill="none" stroke="#000" stroke-width="1.9"/>
<text x="741.34" y="1050.30" font-size="34" textLength="26.50" lengthAdjust="spacingAndGlyphs">−</text>
<text x="771.87" y="1047.30" font-size="34" textLength="47.99" lengthAdjust="spacingAndGlyphs">0.4</text>
<text x="847.00" y="1047.30" font-size="34" textLength="18.70" lengthAdjust="spacingAndGlyphs">0</text>
<text x="897.38" y="1047.30" font-size="34" textLength="47.68" lengthAdjust="spacingAndGlyphs">0.4</text>
<text x="794.75" y="1096.90" font-size="34" textLength="17.36" lengthAdjust="spacingAndGlyphs"><tspan style="font-style:italic">k</tspan></text>
<text x="815.15" y="1105.10" font-size="24" textLength="12.25" lengthAdjust="spacingAndGlyphs"><tspan style="font-style:italic">x</tspan></text>
<text x="838.10" y="1096.90" font-size="37" textLength="12.33" lengthAdjust="spacingAndGlyphs">(</text>
<text x="852.50" y="1096.90" font-size="34" textLength="17.80" lengthAdjust="spacingAndGlyphs"><tspan style="font-style:italic">π</tspan></text>
<text x="874.35" y="1104.90" font-size="45" textLength="14.39" lengthAdjust="spacingAndGlyphs">/</text>
<text x="891.37" y="1096.90" font-size="34" textLength="15.87" lengthAdjust="spacingAndGlyphs"><tspan style="font-style:italic">b</tspan></text>
<text x="908.40" y="1096.90" font-size="37" textLength="11.10" lengthAdjust="spacingAndGlyphs">)</text>
<line x1="1015.5" y1="944.7" x2="1303.5" y2="944.7" stroke="#9a9a9a" stroke-width="1.7"/>
<line x1="1159.5" y1="592.7" x2="1159.5" y2="1008.6" stroke="#9a9a9a" stroke-width="1.7"/>
<line x1="1017.5" y1="784.7" x2="1303.5" y2="784.7" stroke="#8c8c8c" stroke-width="1.9" stroke-dasharray="7.5 7"/>
<line x1="1017.5" y1="624.7" x2="1303.5" y2="624.7" stroke="#8c8c8c" stroke-width="1.9" stroke-dasharray="7.5 7"/>
<line x1="1031.5" y1="1008.6" x2="1031.5" y2="999.1" stroke="#000" stroke-width="1.5"/>
<line x1="1063.5" y1="1008.6" x2="1063.5" y2="1002.9" stroke="#000" stroke-width="1.5"/>
<line x1="1095.5" y1="1008.6" x2="1095.5" y2="999.1" stroke="#000" stroke-width="1.5"/>
<line x1="1127.5" y1="1008.6" x2="1127.5" y2="1002.9" stroke="#000" stroke-width="1.5"/>
<line x1="1191.5" y1="1008.6" x2="1191.5" y2="1002.9" stroke="#000" stroke-width="1.5"/>
<line x1="1223.5" y1="1008.6" x2="1223.5" y2="999.1" stroke="#000" stroke-width="1.5"/>
<line x1="1255.5" y1="1008.6" x2="1255.5" y2="1002.9" stroke="#000" stroke-width="1.5"/>
<line x1="1287.5" y1="1008.6" x2="1287.5" y2="999.1" stroke="#000" stroke-width="1.5"/>
<line x1="1015.5" y1="944.7" x2="1023.0" y2="944.7" stroke="#000" stroke-width="1.5"/>
<line x1="1015.5" y1="784.7" x2="1023.0" y2="784.7" stroke="#000" stroke-width="1.5"/>
<line x1="1015.5" y1="624.7" x2="1023.0" y2="624.7" stroke="#000" stroke-width="1.5"/>
<rect x="1015.5" y="592.7" width="288.0" height="415.9" fill="none" stroke="#000" stroke-width="1.9"/>
<text x="1043.84" y="1050.30" font-size="34" textLength="26.50" lengthAdjust="spacingAndGlyphs">−</text>
<text x="1074.37" y="1047.30" font-size="34" textLength="47.99" lengthAdjust="spacingAndGlyphs">0.4</text>
<text x="1149.50" y="1047.30" font-size="34" textLength="18.70" lengthAdjust="spacingAndGlyphs">0</text>
<text x="1199.88" y="1047.30" font-size="34" textLength="47.68" lengthAdjust="spacingAndGlyphs">0.4</text>
<text x="1097.25" y="1096.90" font-size="34" textLength="17.36" lengthAdjust="spacingAndGlyphs"><tspan style="font-style:italic">k</tspan></text>
<text x="1117.65" y="1105.10" font-size="24" textLength="12.25" lengthAdjust="spacingAndGlyphs"><tspan style="font-style:italic">x</tspan></text>
<text x="1140.60" y="1096.90" font-size="37" textLength="12.33" lengthAdjust="spacingAndGlyphs">(</text>
<text x="1155.00" y="1096.90" font-size="34" textLength="17.80" lengthAdjust="spacingAndGlyphs"><tspan style="font-style:italic">π</tspan></text>
<text x="1176.85" y="1104.90" font-size="45" textLength="14.39" lengthAdjust="spacingAndGlyphs">/</text>
<text x="1193.87" y="1096.90" font-size="34" textLength="15.87" lengthAdjust="spacingAndGlyphs"><tspan style="font-style:italic">b</tspan></text>
<text x="1210.90" y="1096.90" font-size="37" textLength="11.10" lengthAdjust="spacingAndGlyphs">)</text>
<line x1="1318.0" y1="944.7" x2="1606.0" y2="944.7" stroke="#9a9a9a" stroke-width="1.7"/>
<line x1="1462.0" y1="592.7" x2="1462.0" y2="1008.6" stroke="#9a9a9a" stroke-width="1.7"/>
<line x1="1320.0" y1="784.7" x2="1606.0" y2="784.7" stroke="#8c8c8c" stroke-width="1.9" stroke-dasharray="7.5 7"/>
<line x1="1320.0" y1="624.7" x2="1606.0" y2="624.7" stroke="#8c8c8c" stroke-width="1.9" stroke-dasharray="7.5 7"/>
<line x1="1334.0" y1="1008.6" x2="1334.0" y2="999.1" stroke="#000" stroke-width="1.5"/>
<line x1="1366.0" y1="1008.6" x2="1366.0" y2="1002.9" stroke="#000" stroke-width="1.5"/>
<line x1="1398.0" y1="1008.6" x2="1398.0" y2="999.1" stroke="#000" stroke-width="1.5"/>
<line x1="1430.0" y1="1008.6" x2="1430.0" y2="1002.9" stroke="#000" stroke-width="1.5"/>
<line x1="1494.0" y1="1008.6" x2="1494.0" y2="1002.9" stroke="#000" stroke-width="1.5"/>
<line x1="1526.0" y1="1008.6" x2="1526.0" y2="999.1" stroke="#000" stroke-width="1.5"/>
<line x1="1558.0" y1="1008.6" x2="1558.0" y2="1002.9" stroke="#000" stroke-width="1.5"/>
<line x1="1590.0" y1="1008.6" x2="1590.0" y2="999.1" stroke="#000" stroke-width="1.5"/>
<line x1="1318.0" y1="944.7" x2="1325.5" y2="944.7" stroke="#000" stroke-width="1.5"/>
<line x1="1318.0" y1="784.7" x2="1325.5" y2="784.7" stroke="#000" stroke-width="1.5"/>
<line x1="1318.0" y1="624.7" x2="1325.5" y2="624.7" stroke="#000" stroke-width="1.5"/>
<rect x="1318.0" y="592.7" width="288.0" height="415.9" fill="none" stroke="#000" stroke-width="1.9"/>
<text x="1346.34" y="1050.30" font-size="34" textLength="26.50" lengthAdjust="spacingAndGlyphs">−</text>
<text x="1376.87" y="1047.30" font-size="34" textLength="47.99" lengthAdjust="spacingAndGlyphs">0.4</text>
<text x="1452.00" y="1047.30" font-size="34" textLength="18.70" lengthAdjust="spacingAndGlyphs">0</text>
<text x="1502.38" y="1047.30" font-size="34" textLength="47.68" lengthAdjust="spacingAndGlyphs">0.4</text>
<text x="1399.75" y="1096.90" font-size="34" textLength="17.36" lengthAdjust="spacingAndGlyphs"><tspan style="font-style:italic">k</tspan></text>
<text x="1420.15" y="1105.10" font-size="24" textLength="12.25" lengthAdjust="spacingAndGlyphs"><tspan style="font-style:italic">x</tspan></text>
<text x="1443.10" y="1096.90" font-size="37" textLength="12.33" lengthAdjust="spacingAndGlyphs">(</text>
<text x="1457.50" y="1096.90" font-size="34" textLength="17.80" lengthAdjust="spacingAndGlyphs"><tspan style="font-style:italic">π</tspan></text>
<text x="1479.35" y="1104.90" font-size="45" textLength="14.39" lengthAdjust="spacingAndGlyphs">/</text>
<text x="1496.37" y="1096.90" font-size="34" textLength="15.87" lengthAdjust="spacingAndGlyphs"><tspan style="font-style:italic">b</tspan></text>
<text x="1513.40" y="1096.90" font-size="37" textLength="11.10" lengthAdjust="spacingAndGlyphs">)</text>
<line x1="1620.5" y1="944.7" x2="1908.5" y2="944.7" stroke="#9a9a9a" stroke-width="1.7"/>
<line x1="1764.5" y1="592.7" x2="1764.5" y2="1008.6" stroke="#9a9a9a" stroke-width="1.7"/>
<line x1="1622.5" y1="784.7" x2="1908.5" y2="784.7" stroke="#8c8c8c" stroke-width="1.9" stroke-dasharray="7.5 7"/>
<line x1="1622.5" y1="624.7" x2="1908.5" y2="624.7" stroke="#8c8c8c" stroke-width="1.9" stroke-dasharray="7.5 7"/>
<line x1="1636.5" y1="1008.6" x2="1636.5" y2="999.1" stroke="#000" stroke-width="1.5"/>
<line x1="1668.5" y1="1008.6" x2="1668.5" y2="1002.9" stroke="#000" stroke-width="1.5"/>
<line x1="1700.5" y1="1008.6" x2="1700.5" y2="999.1" stroke="#000" stroke-width="1.5"/>
<line x1="1732.5" y1="1008.6" x2="1732.5" y2="1002.9" stroke="#000" stroke-width="1.5"/>
<line x1="1796.5" y1="1008.6" x2="1796.5" y2="1002.9" stroke="#000" stroke-width="1.5"/>
<line x1="1828.5" y1="1008.6" x2="1828.5" y2="999.1" stroke="#000" stroke-width="1.5"/>
<line x1="1860.5" y1="1008.6" x2="1860.5" y2="1002.9" stroke="#000" stroke-width="1.5"/>
<line x1="1892.5" y1="1008.6" x2="1892.5" y2="999.1" stroke="#000" stroke-width="1.5"/>
<line x1="1620.5" y1="944.7" x2="1628.0" y2="944.7" stroke="#000" stroke-width="1.5"/>
<line x1="1620.5" y1="784.7" x2="1628.0" y2="784.7" stroke="#000" stroke-width="1.5"/>
<line x1="1620.5" y1="624.7" x2="1628.0" y2="624.7" stroke="#000" stroke-width="1.5"/>
<rect x="1620.5" y="592.7" width="288.0" height="415.9" fill="none" stroke="#000" stroke-width="1.9"/>
<text x="1648.84" y="1050.30" font-size="34" textLength="26.50" lengthAdjust="spacingAndGlyphs">−</text>
<text x="1679.37" y="1047.30" font-size="34" textLength="47.99" lengthAdjust="spacingAndGlyphs">0.4</text>
<text x="1754.50" y="1047.30" font-size="34" textLength="18.70" lengthAdjust="spacingAndGlyphs">0</text>
<text x="1804.88" y="1047.30" font-size="34" textLength="47.68" lengthAdjust="spacingAndGlyphs">0.4</text>
<text x="1702.25" y="1096.90" font-size="34" textLength="17.36" lengthAdjust="spacingAndGlyphs"><tspan style="font-style:italic">k</tspan></text>
<text x="1722.65" y="1105.10" font-size="24" textLength="12.25" lengthAdjust="spacingAndGlyphs"><tspan style="font-style:italic">x</tspan></text>
<text x="1745.60" y="1096.90" font-size="37" textLength="12.33" lengthAdjust="spacingAndGlyphs">(</text>
<text x="1760.00" y="1096.90" font-size="34" textLength="17.80" lengthAdjust="spacingAndGlyphs"><tspan style="font-style:italic">π</tspan></text>
<text x="1781.85" y="1104.90" font-size="45" textLength="14.39" lengthAdjust="spacingAndGlyphs">/</text>
<text x="1798.87" y="1096.90" font-size="34" textLength="15.87" lengthAdjust="spacingAndGlyphs"><tspan style="font-style:italic">b</tspan></text>
<text x="1815.90" y="1096.90" font-size="37" textLength="11.10" lengthAdjust="spacingAndGlyphs">)</text>
<line x1="1487.0" y1="7.6" x2="1487.0" y2="498.2" stroke="#8c8c8c" stroke-width="1.9" stroke-dasharray="7.5 7"/>
<line x1="1627.3" y1="7.6" x2="1627.3" y2="498.2" stroke="#8c8c8c" stroke-width="1.9" stroke-dasharray="7.5 7"/>
<line x1="1767.6" y1="7.6" x2="1767.6" y2="498.2" stroke="#8c8c8c" stroke-width="1.9" stroke-dasharray="7.5 7"/>
<line x1="1416.7" y1="78.0" x2="1908.4" y2="78.0" stroke="#8c8c8c" stroke-width="1.9" stroke-dasharray="7.5 7"/>
<line x1="1416.7" y1="358.0" x2="1908.4" y2="358.0" stroke="#8c8c8c" stroke-width="1.9" stroke-dasharray="7.5 7"/>
<line x1="1416.7" y1="218.0" x2="1627.3" y2="218.0" stroke="#8c8c8c" stroke-width="1.9" stroke-dasharray="7.5 7"/>
<path d="M1627.3,498.2 V218.0 H1908.4" fill="none" stroke="#000" stroke-width="1.9"/>
<line x1="1487.0" y1="498.2" x2="1487.0" y2="489.2" stroke="#000" stroke-width="1.5"/>
<line x1="1627.3" y1="498.2" x2="1627.3" y2="489.2" stroke="#000" stroke-width="1.5"/>
<line x1="1767.6" y1="498.2" x2="1767.6" y2="489.2" stroke="#000" stroke-width="1.5"/>
<line x1="1416.7" y1="78.0" x2="1425.7" y2="78.0" stroke="#000" stroke-width="1.5"/>
<line x1="1416.7" y1="218.0" x2="1425.7" y2="218.0" stroke="#000" stroke-width="1.5"/>
<line x1="1416.7" y1="358.0" x2="1425.7" y2="358.0" stroke="#000" stroke-width="1.5"/>
<rect x="1416.7" y="7.6" width="491.7" height="490.6" fill="none" stroke="#000" stroke-width="1.9"/>
<text x="1384.38" y="87.00" font-size="32" textLength="18.40" lengthAdjust="spacingAndGlyphs">2</text>
<text x="1383.28" y="228.00" font-size="32" textLength="18.40" lengthAdjust="spacingAndGlyphs">1</text>
<text x="1383.90" y="369.00" font-size="32" textLength="18.40" lengthAdjust="spacingAndGlyphs">0</text>
<text x="1356.63" y="511.50" font-size="32" textLength="28.63" lengthAdjust="spacingAndGlyphs">−</text>
<text x="1386.52" y="509.00" font-size="32" textLength="18.40" lengthAdjust="spacingAndGlyphs">1</text>
<text x="1450.63" y="533.00" font-size="32" textLength="28.63" lengthAdjust="spacingAndGlyphs">−</text>
<text x="1483.42" y="530.50" font-size="32" textLength="18.40" lengthAdjust="spacingAndGlyphs">2</text>
<text x="1589.83" y="533.00" font-size="32" textLength="28.63" lengthAdjust="spacingAndGlyphs">−</text>
<text x="1621.38" y="530.50" font-size="32" textLength="18.40" lengthAdjust="spacingAndGlyphs">1</text>
<text x="1755.27" y="530.50" font-size="32" textLength="18.06" lengthAdjust="spacingAndGlyphs">0</text>
<text x="1899.12" y="530.50" font-size="32" textLength="18.40" lengthAdjust="spacingAndGlyphs">1</text>
<text x="1570.05" y="565.20" font-size="34" textLength="17.36" lengthAdjust="spacingAndGlyphs"><tspan style="font-style:italic">k</tspan></text>
<text x="1590.45" y="573.40" font-size="24" textLength="12.25" lengthAdjust="spacingAndGlyphs"><tspan style="font-style:italic">x</tspan></text>
<text x="1613.40" y="565.20" font-size="37" textLength="12.33" lengthAdjust="spacingAndGlyphs">(</text>
<text x="1627.80" y="565.20" font-size="34" textLength="17.80" lengthAdjust="spacingAndGlyphs"><tspan style="font-style:italic">π</tspan></text>
<text x="1649.65" y="573.20" font-size="45" textLength="14.39" lengthAdjust="spacingAndGlyphs">/</text>
<text x="1666.67" y="565.20" font-size="34" textLength="15.87" lengthAdjust="spacingAndGlyphs"><tspan style="font-style:italic">b</tspan></text>
<text x="1683.70" y="565.20" font-size="37" textLength="11.10" lengthAdjust="spacingAndGlyphs">)</text>
<text transform="translate(1334.80,299.80) rotate(-90)" x="-1.15" y="0" font-size="34" textLength="17.36" lengthAdjust="spacingAndGlyphs"><tspan style="font-style:italic">k</tspan></text>
<text transform="translate(1343.00,280.90) rotate(-90)" x="1.88" y="0" font-size="24" textLength="10.00" lengthAdjust="spacingAndGlyphs"><tspan style="font-style:italic">y</tspan></text>
<text transform="translate(1334.80,255.60) rotate(-90)" x="-2.00" y="0" font-size="37" textLength="12.33" lengthAdjust="spacingAndGlyphs">(</text>
<text transform="translate(1334.80,243.20) rotate(-90)" x="-0.00" y="0" font-size="34" textLength="17.80" lengthAdjust="spacingAndGlyphs"><tspan style="font-style:italic">π</tspan></text>
<text transform="translate(1342.80,221.35) rotate(-90)" x="-0.00" y="0" font-size="45" textLength="14.39" lengthAdjust="spacingAndGlyphs">/</text>
<text transform="translate(1334.80,203.40) rotate(-90)" x="-1.00" y="0" font-size="34" textLength="15.09" lengthAdjust="spacingAndGlyphs"><tspan style="font-style:italic">c</tspan></text>
<text transform="translate(1334.80,186.40) rotate(-90)" x="-0.90" y="0" font-size="37" textLength="11.10" lengthAdjust="spacingAndGlyphs">)</text>
<text x="1809.20" y="206.50" font-size="34" textLength="21.76" lengthAdjust="spacingAndGlyphs"><tspan style="font-style:italic">Y</tspan></text>
<text x="1597.43" y="369.50" font-size="34" textLength="23.90" lengthAdjust="spacingAndGlyphs"><tspan style="font-style:italic">X</tspan></text>
<text x="1757.50" y="364.50" font-size="34" textLength="22.25" lengthAdjust="spacingAndGlyphs"><tspan style="font-style:italic">Γ</tspan></text>
<text x="13.22" y="32.60" font-size="37" textLength="46.85" lengthAdjust="spacingAndGlyphs">(a)</text>
<text x="678.86" y="32.40" font-size="37" textLength="48.25" lengthAdjust="spacingAndGlyphs">(b)</text>
<text x="1350.61" y="32.50" font-size="37" textLength="45.07" lengthAdjust="spacingAndGlyphs">(c)</text>
<text x="1.27" y="606.10" font-size="37" textLength="48.03" lengthAdjust="spacingAndGlyphs">(d)</text>
<text transform="translate(514.75,422.90) scale(1.15,1)" x="0" y="0" font-size="34" textLength="39.52" lengthAdjust="spacing">Ba</text>
<text x="514.76" y="474.90" font-size="34" textLength="53.70" lengthAdjust="spacingAndGlyphs">Mn</text>
<text transform="translate(513.60,524.50) scale(1.15,1)" x="0" y="0" font-size="34" textLength="36.92" lengthAdjust="spacing">Sb</text>
<text x="194.40" y="578.10" font-size="31" textLength="21.78" lengthAdjust="spacingAndGlyphs"><tspan style="font-style:italic">E</tspan></text>
<text x="214.97" y="584.60" font-size="21" textLength="15.77" lengthAdjust="spacingAndGlyphs">B</text>
<text x="240.60" y="578.10" font-size="31" textLength="20.11" lengthAdjust="spacingAndGlyphs">=</text>
<text x="270.68" y="578.10" font-size="31" textLength="93.90" lengthAdjust="spacingAndGlyphs">0 meV</text>
<text x="507.14" y="582.30" font-size="31" textLength="128.13" lengthAdjust="spacingAndGlyphs">100 meV</text>
<text x="805.19" y="582.30" font-size="31" textLength="127.39" lengthAdjust="spacingAndGlyphs">200 meV</text>
<text x="1105.68" y="582.30" font-size="31" textLength="128.10" lengthAdjust="spacingAndGlyphs">300 meV</text>
<text x="1415.69" y="582.30" font-size="31" textLength="126.58" lengthAdjust="spacingAndGlyphs">400 meV</text>
<text x="1712.19" y="582.30" font-size="31" textLength="127.08" lengthAdjust="spacingAndGlyphs">490 meV</text>
<text x="72.65" y="634.60" font-size="33" textLength="18.97" lengthAdjust="spacingAndGlyphs">2</text>
<text x="72.17" y="794.60" font-size="33" textLength="18.97" lengthAdjust="spacingAndGlyphs">1</text>
<text x="72.95" y="954.60" font-size="33" textLength="18.97" lengthAdjust="spacingAndGlyphs">0</text>
<text transform="translate(40.60,854.00) rotate(-90)" x="-1.15" y="0" font-size="34" textLength="17.36" lengthAdjust="spacingAndGlyphs"><tspan style="font-style:italic">k</tspan></text>
<text transform="translate(48.80,835.10) rotate(-90)" x="1.88" y="0" font-size="24" textLength="10.00" lengthAdjust="spacingAndGlyphs"><tspan style="font-style:italic">y</tspan></text>
<text transform="translate(40.60,809.80) rotate(-90)" x="-2.00" y="0" font-size="37" textLength="12.33" lengthAdjust="spacingAndGlyphs">(</text>
<text transform="translate(40.60,797.40) rotate(-90)" x="-0.00" y="0" font-size="34" textLength="17.80" lengthAdjust="spacingAndGlyphs"><tspan style="font-style:italic">π</tspan></text>
<text transform="translate(48.60,775.55) rotate(-90)" x="-0.00" y="0" font-size="45" textLength="14.39" lengthAdjust="spacingAndGlyphs">/</text>
<text transform="translate(40.60,757.60) rotate(-90)" x="-1.00" y="0" font-size="34" textLength="15.09" lengthAdjust="spacingAndGlyphs"><tspan style="font-style:italic">c</tspan></text>
<text transform="translate(40.60,740.60) rotate(-90)" x="-0.90" y="0" font-size="37" textLength="11.10" lengthAdjust="spacingAndGlyphs">)</text>
<text x="274.90" y="794.70" font-size="34" textLength="21.76" lengthAdjust="spacingAndGlyphs"><tspan style="font-style:italic">Y</tspan></text>
<text x="243.30" y="953.00" font-size="34" textLength="22.25" lengthAdjust="spacingAndGlyphs"><tspan style="font-style:italic">Γ</tspan></text>
<text x="1094.01" y="840.90" font-size="32" textLength="18.33" lengthAdjust="spacingAndGlyphs" style="fill:#1a55f0">α</text>
<text x="1118.03" y="897.00" font-size="32" textLength="17.66" lengthAdjust="spacingAndGlyphs" style="fill:#f01515">β</text>
<text x="1092.20" y="918.00" font-size="32" textLength="14.58" lengthAdjust="spacingAndGlyphs">γ</text>
<text transform="translate(1924.00,867.70) scale(1.15,1)" x="0" y="0" font-size="32" textLength="60.89" lengthAdjust="spacing">high</text>
<text x="1916.87" y="1022.50" font-size="32" textLength="54.13" lengthAdjust="spacingAndGlyphs">low</text>
<linearGradient id="cbg" x1="0" y1="0" x2="0" y2="1"><stop offset="0.000" stop-color="rgb(51,51,153)"/><stop offset="0.033" stop-color="rgb(35,83,185)"/><stop offset="0.067" stop-color="rgb(19,114,217)"/><stop offset="0.100" stop-color="rgb(4,144,246)"/><stop offset="0.133" stop-color="rgb(0,170,202)"/><stop offset="0.167" stop-color="rgb(0,192,136)"/><stop offset="0.200" stop-color="rgb(21,208,106)"/><stop offset="0.233" stop-color="rgb(65,217,115)"/><stop offset="0.267" stop-color="rgb(109,225,123)"/><stop offset="0.300" stop-color="rgb(153,234,132)"/><stop offset="0.333" stop-color="rgb(193,242,140)"/><stop offset="0.367" stop-color="rgb(233,250,148)"/><stop offset="0.400" stop-color="rgb(246,243,148)"/><stop offset="0.433" stop-color="rgb(226,217,137)"/><stop offset="0.467" stop-color="rgb(208,194,127)"/><stop offset="0.500" stop-color="rgb(190,171,117)"/><stop offset="0.533" stop-color="rgb(172,148,108)"/><stop offset="0.567" stop-color="rgb(154,125,98)"/><stop offset="0.600" stop-color="rgb(138,105,89)"/><stop offset="0.633" stop-color="rgb(133,98,91)"/><stop offset="0.667" stop-color="rgb(149,119,112)"/><stop offset="0.700" stop-color="rgb(165,139,134)"/><stop offset="0.733" stop-color="rgb(179,157,153)"/><stop offset="0.767" stop-color="rgb(191,173,169)"/><stop offset="0.800" stop-color="rgb(205,191,188)"/><stop offset="0.833" stop-color="rgb(217,206,204)"/><stop offset="0.867" stop-color="rgb(227,219,217)"/><stop offset="0.900" stop-color="rgb(237,231,230)"/><stop offset="0.933" stop-color="rgb(245,242,241)"/><stop offset="0.967" stop-color="rgb(253,252,252)"/><stop offset="1.000" stop-color="rgb(255,255,255)"/></linearGradient>
<rect x="1926.5" y="890" width="21" height="94.5" fill="url(#cbg)" stroke="#000" stroke-width="1.8"/>
<g stroke="#000" stroke-width="1.5" fill="none">
<line x1="80.4" y1="505.7" x2="80.4" y2="446.7" marker-end="url(#ah)"/>
<line x1="80.4" y1="505.7" x2="124.8" y2="505.7" marker-end="url(#ah)"/>
<line x1="80.4" y1="505.7" x2="107.3" y2="487.3" marker-end="url(#ah)"/>
<line x1="711.4" y1="496.9" x2="711.4" y2="418.3" marker-end="url(#ah)"/>
<line x1="711.4" y1="496.9" x2="776.7" y2="496.9" marker-end="url(#ah)"/>
</g>
<text x="69.50" y="442.00" font-size="33" textLength="18.97" lengthAdjust="spacingAndGlyphs"><tspan style="font-style:italic">a</tspan></text>
<text x="109.72" y="484.00" font-size="33" textLength="15.78" lengthAdjust="spacingAndGlyphs"><tspan style="font-style:italic">c</tspan></text>
<text x="132.11" y="516.20" font-size="33" textLength="14.74" lengthAdjust="spacingAndGlyphs"><tspan style="font-style:italic">b</tspan></text>
<text x="704.58" y="414.00" font-size="33" textLength="16.35" lengthAdjust="spacingAndGlyphs"><tspan style="font-style:italic">c</tspan></text>
<text x="789.72" y="508.20" font-size="33" textLength="14.52" lengthAdjust="spacingAndGlyphs"><tspan style="font-style:italic">b</tspan></text>
</svg>
</body></html>
